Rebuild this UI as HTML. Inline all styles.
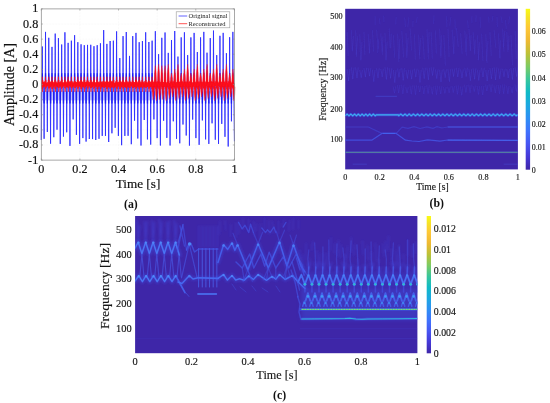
<!DOCTYPE html>
<html lang="en">
<head>
<meta charset="utf-8">
<title>Figure: original vs reconstructed signal and spectrograms</title>
<style>
html,body{margin:0;padding:0;background:#fff;}
body{width:550px;height:403px;overflow:hidden;}
svg{display:block;font-family:"Liberation Serif","DejaVu Serif",serif;}
</style>
</head>
<body>
<svg width="550" height="403" viewBox="0 0 550 403">
<defs>
<linearGradient id="parula" x1="0" y1="1" x2="0" y2="0">
<stop offset="0" stop-color="#3E26A8"/>
<stop offset="0.08" stop-color="#4538D7"/>
<stop offset="0.16" stop-color="#4755F2"/>
<stop offset="0.24" stop-color="#3F73FD"/>
<stop offset="0.32" stop-color="#2E8FF4"/>
<stop offset="0.40" stop-color="#1CA8E1"/>
<stop offset="0.48" stop-color="#0FBAC6"/>
<stop offset="0.56" stop-color="#38C69C"/>
<stop offset="0.64" stop-color="#7CCB63"/>
<stop offset="0.72" stop-color="#BCC137"/>
<stop offset="0.80" stop-color="#EEB932"/>
<stop offset="0.88" stop-color="#FEC737"/>
<stop offset="0.95" stop-color="#F6E327"/>
<stop offset="1" stop-color="#F9FB15"/>
</linearGradient>
<filter id="bl03a" filterUnits="userSpaceOnUse" x="0" y="0" width="550" height="403"><feGaussianBlur stdDeviation="0.28"/></filter>
<filter id="bl03" filterUnits="userSpaceOnUse" x="0" y="0" width="550" height="403"><feGaussianBlur stdDeviation="0.3"/></filter>
<filter id="bl04" filterUnits="userSpaceOnUse" x="0" y="0" width="550" height="403"><feGaussianBlur stdDeviation="0.4"/></filter>
<filter id="bl05" filterUnits="userSpaceOnUse" x="0" y="0" width="550" height="403"><feGaussianBlur stdDeviation="0.5"/></filter>
<filter id="bl06" filterUnits="userSpaceOnUse" x="0" y="0" width="550" height="403"><feGaussianBlur stdDeviation="0.6"/></filter>
<filter id="bl07" filterUnits="userSpaceOnUse" x="0" y="0" width="550" height="403"><feGaussianBlur stdDeviation="0.7"/></filter>
<filter id="bl09" filterUnits="userSpaceOnUse" x="0" y="0" width="550" height="403"><feGaussianBlur stdDeviation="0.9"/></filter>
<filter id="bl08" filterUnits="userSpaceOnUse" x="0" y="0" width="550" height="403"><feGaussianBlur stdDeviation="0.8"/></filter>
<filter id="bl12" filterUnits="userSpaceOnUse" x="0" y="0" width="550" height="403"><feGaussianBlur stdDeviation="1.2"/></filter>
<filter id="bl20" filterUnits="userSpaceOnUse" x="0" y="0" width="550" height="403"><feGaussianBlur stdDeviation="2"/></filter>
<clipPath id="clipB"><rect x="345.2" y="8.8" width="172.7" height="160.6"/></clipPath>
<clipPath id="clipC"><rect x="135.1" y="216" width="282.3" height="137.2"/></clipPath>
</defs>
<rect x="0" y="0" width="550" height="403" fill="#ffffff"/>
<g id="plotA">
<path d="M79.92 8.90 V160.10 M118.54 8.90 V160.10 M157.16 8.90 V160.10 M195.78 8.90 V160.10 M41.30 24.02 H234.40 M41.30 39.14 H234.40 M41.30 54.26 H234.40 M41.30 69.38 H234.40 M41.30 84.50 H234.40 M41.30 99.62 H234.40 M41.30 114.74 H234.40 M41.30 129.86 H234.40 M41.30 144.98 H234.40" stroke="#ededed" stroke-width="0.5" stroke-dasharray="0.6 0.9" fill="none"/>
<rect x="41.80" y="86.77" width="111.70" height="13.61" fill="#8c8cff" opacity="0.5" filter="url(#bl05)"/>
<rect x="153" y="86.77" width="80.90" height="12.85" fill="#8c8cff" opacity="0.3" filter="url(#bl05)"/>
<path d="M41.30 92.06 L41.35 140.00 L41.65 99.62 L41.90 84.50 L41.80 84.50 L42.10 74.67 L42.30 46.50 L42.50 74.67 L42.80 82.99 L43.60 86.01 L43.90 99.62 L44.10 138.80 L44.30 99.62 L44.60 84.50 L45.03 84.50 L45.33 74.67 L45.53 31.90 L45.73 74.67 L46.03 82.99 L46.83 86.01 L47.13 99.62 L47.33 132.00 L47.53 99.62 L47.83 84.50 L48.26 84.50 L48.56 74.67 L48.76 37.80 L48.96 74.67 L49.26 82.99 L50.06 86.01 L50.36 99.62 L50.56 143.70 L50.76 99.62 L51.06 84.50 L51.49 84.50 L51.79 74.67 L51.99 46.90 L52.19 74.67 L52.49 82.99 L53.29 86.01 L53.59 99.62 L53.79 137.20 L53.99 99.62 L54.29 84.50 L54.72 84.50 L55.02 74.67 L55.22 33.60 L55.42 74.67 L55.72 82.99 L56.52 86.01 L56.82 99.62 L57.02 129.70 L57.22 99.62 L57.52 84.50 L57.95 84.50 L58.25 74.67 L58.45 38.10 L58.65 74.67 L58.95 82.99 L59.75 86.01 L60.05 99.62 L60.25 143.90 L60.45 99.62 L60.75 84.50 L61.18 84.50 L61.48 74.67 L61.68 44.50 L61.88 74.67 L62.18 82.99 L62.98 86.01 L63.28 99.62 L63.48 136.60 L63.68 99.62 L63.98 84.50 L64.41 84.50 L64.71 74.67 L64.91 32.30 L65.11 74.67 L65.41 82.99 L66.21 86.01 L66.51 99.62 L66.71 132.30 L66.91 99.62 L67.21 84.50 L67.64 84.50 L67.94 74.67 L68.14 42.90 L68.34 74.67 L68.64 82.99 L69.44 86.01 L69.74 99.62 L69.94 145.90 L70.14 99.62 L70.44 84.50 L70.87 84.50 L71.17 74.67 L71.37 40.70 L71.57 74.67 L71.87 82.99 L72.67 86.01 L72.97 99.62 L73.17 119.40 L73.37 99.62 L73.67 84.50 L74.10 84.50 L74.40 74.67 L74.60 35.20 L74.80 74.67 L75.10 82.99 L75.90 86.01 L76.20 99.62 L76.40 134.90 L76.60 99.62 L76.90 84.50 L77.33 84.50 L77.63 74.67 L77.83 42.20 L78.03 74.67 L78.33 82.99 L79.13 86.01 L79.43 99.62 L79.63 143.90 L79.83 99.62 L80.13 84.50 L80.56 84.50 L80.86 74.67 L81.06 44.30 L81.26 74.67 L81.56 82.99 L82.36 86.01 L82.66 99.62 L82.86 138.10 L83.06 99.62 L83.36 84.50 L83.79 84.50 L84.09 74.67 L84.29 45.20 L84.49 74.67 L84.79 82.99 L85.59 86.01 L85.89 99.62 L86.09 141.60 L86.29 99.62 L86.59 84.50 L87.02 84.50 L87.32 74.67 L87.52 44.90 L87.72 74.67 L88.02 82.99 L88.82 86.01 L89.12 99.62 L89.32 139.00 L89.52 99.62 L89.82 84.50 L90.25 84.50 L90.55 74.67 L90.75 44.80 L90.95 74.67 L91.25 82.99 L92.05 86.01 L92.35 99.62 L92.55 139.10 L92.75 99.62 L93.05 84.50 L93.48 84.50 L93.78 74.67 L93.98 46.20 L94.18 74.67 L94.48 82.99 L95.28 86.01 L95.58 99.62 L95.78 140.00 L95.98 99.62 L96.28 84.50 L96.71 84.50 L97.01 74.67 L97.21 45.20 L97.41 74.67 L97.71 82.99 L98.51 86.01 L98.81 99.62 L99.01 138.80 L99.21 99.62 L99.51 84.50 L99.94 84.50 L100.24 74.67 L100.44 43.30 L100.64 74.67 L100.94 82.99 L101.74 86.01 L102.04 99.62 L102.24 135.90 L102.44 99.62 L102.74 84.50 L103.17 84.50 L103.47 74.67 L103.67 30.10 L103.87 74.67 L104.17 82.99 L104.97 86.01 L105.27 99.62 L105.47 135.90 L105.67 99.62 L105.97 84.50 L106.40 84.50 L106.70 74.67 L106.90 43.90 L107.10 74.67 L107.40 82.99 L108.20 86.01 L108.50 99.62 L108.70 142.00 L108.90 99.62 L109.20 84.50 L109.63 84.50 L109.93 74.67 L110.13 41.00 L110.33 74.67 L110.63 82.99 L111.43 86.01 L111.73 99.62 L111.93 133.30 L112.13 99.62 L112.43 84.50 L112.86 84.50 L113.16 74.67 L113.36 40.70 L113.56 74.67 L113.86 82.99 L114.66 86.01 L114.96 99.62 L115.16 127.80 L115.36 99.62 L115.66 84.50 L116.09 84.50 L116.39 74.67 L116.59 31.40 L116.79 74.67 L117.09 82.99 L117.89 86.01 L118.19 99.62 L118.39 135.90 L118.59 99.62 L118.89 84.50 L119.32 84.50 L119.62 74.67 L119.82 58.10 L120.02 74.67 L120.32 82.99 L121.12 86.01 L121.42 99.62 L121.62 145.20 L121.82 99.62 L122.12 84.50 L122.55 84.50 L122.85 74.67 L123.05 36.10 L123.25 74.67 L123.55 82.99 L124.35 86.01 L124.65 99.62 L124.85 135.90 L125.05 99.62 L125.35 84.50 L125.78 84.50 L126.08 74.67 L126.28 32.00 L126.48 74.67 L126.78 82.99 L127.58 86.01 L127.88 99.62 L128.08 135.80 L128.28 99.62 L128.58 84.50 L129.01 84.50 L129.31 74.67 L129.51 55.90 L129.71 74.67 L130.01 82.99 L130.81 86.01 L131.11 99.62 L131.31 144.20 L131.51 99.62 L131.81 84.50 L132.24 84.50 L132.54 74.67 L132.74 36.10 L132.94 74.67 L133.24 82.99 L134.04 86.01 L134.34 99.62 L134.54 120.70 L134.74 99.62 L135.04 84.50 L135.47 84.50 L135.77 74.67 L135.97 32.90 L136.17 74.67 L136.47 82.99 L137.27 86.01 L137.57 99.62 L137.77 138.50 L137.97 99.62 L138.27 84.50 L138.70 84.50 L139.00 74.67 L139.20 42.20 L139.40 74.67 L139.70 82.99 L140.50 86.01 L140.80 99.62 L141.00 145.50 L141.20 99.62 L141.50 84.50 L141.93 84.50 L142.23 74.67 L142.43 41.10 L142.63 74.67 L142.93 82.99 L143.73 86.01 L144.03 99.62 L144.23 120.00 L144.43 99.62 L144.73 84.50 L145.16 84.50 L145.46 74.67 L145.66 32.30 L145.86 74.67 L146.16 82.99 L146.96 86.01 L147.26 99.62 L147.46 139.40 L147.66 99.62 L147.96 84.50 L148.39 84.50 L148.69 74.67 L148.89 42.00 L149.09 74.67 L149.39 82.99 L150.19 86.01 L150.49 99.62 L150.69 144.60 L150.89 99.62 L151.19 84.50 L151.62 84.50 L151.92 74.67 L152.12 40.70 L152.32 74.67 L152.62 82.99 L153.42 86.01 L153.72 99.62 L153.92 119.40 L154.12 99.62 L154.42 84.50 L154.85 84.50 L155.15 74.67 L155.35 31.20 L155.55 74.67 L155.85 82.99 L156.65 86.01 L156.95 99.62 L157.15 138.10 L157.35 99.62 L157.65 84.50 L158.08 84.50 L158.38 74.67 L158.58 54.20 L158.78 74.67 L159.08 82.99 L159.88 86.01 L160.18 99.62 L160.38 145.50 L160.58 99.62 L160.88 84.50 L161.31 84.50 L161.61 74.67 L161.81 37.80 L162.01 74.67 L162.31 82.99 L163.11 86.01 L163.41 99.62 L163.61 120.70 L163.81 99.62 L164.11 84.50 L164.54 84.50 L164.84 74.67 L165.04 32.50 L165.24 74.67 L165.54 82.99 L166.34 86.01 L166.64 99.62 L166.84 137.90 L167.04 99.62 L167.34 84.50 L167.77 84.50 L168.07 74.67 L168.27 52.90 L168.47 74.67 L168.77 82.99 L169.57 86.01 L169.87 99.62 L170.07 145.50 L170.27 99.62 L170.57 84.50 L171.00 84.50 L171.30 74.67 L171.50 40.00 L171.70 74.67 L172.00 82.99 L172.80 86.01 L173.10 99.62 L173.30 121.30 L173.50 99.62 L173.80 84.50 L174.23 84.50 L174.53 74.67 L174.73 31.00 L174.93 74.67 L175.23 82.99 L176.03 86.01 L176.33 99.62 L176.53 138.80 L176.73 99.62 L177.03 84.50 L177.46 84.50 L177.76 74.67 L177.96 56.60 L178.16 74.67 L178.46 82.99 L179.26 86.01 L179.56 99.62 L179.76 143.30 L179.96 99.62 L180.26 84.50 L180.69 84.50 L180.99 74.67 L181.19 37.40 L181.39 74.67 L181.69 82.99 L182.49 86.01 L182.79 99.62 L182.99 124.50 L183.19 99.62 L183.49 84.50 L183.92 84.50 L184.22 74.67 L184.42 32.30 L184.62 74.67 L184.92 82.99 L185.72 86.01 L186.02 99.62 L186.22 135.50 L186.42 99.62 L186.72 84.50 L187.15 84.50 L187.45 74.67 L187.65 55.10 L187.85 74.67 L188.15 82.99 L188.95 86.01 L189.25 99.62 L189.45 145.60 L189.65 99.62 L189.95 84.50 L190.38 84.50 L190.68 74.67 L190.88 37.40 L191.08 74.67 L191.38 82.99 L192.18 86.01 L192.48 99.62 L192.68 119.60 L192.88 99.62 L193.18 84.50 L193.61 84.50 L193.91 74.67 L194.11 32.90 L194.31 74.67 L194.61 82.99 L195.41 86.01 L195.71 99.62 L195.91 138.10 L196.11 99.62 L196.41 84.50 L196.84 84.50 L197.14 74.67 L197.34 52.00 L197.54 74.67 L197.84 82.99 L198.64 86.01 L198.94 99.62 L199.14 144.80 L199.34 99.62 L199.64 84.50 L200.07 84.50 L200.37 74.67 L200.57 37.40 L200.77 74.67 L201.07 82.99 L201.87 86.01 L202.17 99.62 L202.37 120.40 L202.57 99.62 L202.87 84.50 L203.30 84.50 L203.60 74.67 L203.80 31.90 L204.00 74.67 L204.30 82.99 L205.10 86.01 L205.40 99.62 L205.60 139.40 L205.80 99.62 L206.10 84.50 L206.53 84.50 L206.83 74.67 L207.03 52.70 L207.23 74.67 L207.53 82.99 L208.33 86.01 L208.63 99.62 L208.83 143.90 L209.03 99.62 L209.33 84.50 L209.76 84.50 L210.06 74.67 L210.26 38.10 L210.46 74.67 L210.76 82.99 L211.56 86.01 L211.86 99.62 L212.06 123.30 L212.26 99.62 L212.56 84.50 L212.99 84.50 L213.29 74.67 L213.49 30.60 L213.69 74.67 L213.99 82.99 L214.79 86.01 L215.09 99.62 L215.29 139.70 L215.49 99.62 L215.79 84.50 L216.22 84.50 L216.52 74.67 L216.72 55.10 L216.92 74.67 L217.22 82.99 L218.02 86.01 L218.32 99.62 L218.52 143.90 L218.72 99.62 L219.02 84.50 L219.45 84.50 L219.75 74.67 L219.95 35.80 L220.15 74.67 L220.45 82.99 L221.25 86.01 L221.55 99.62 L221.75 123.90 L221.95 99.62 L222.25 84.50 L222.68 84.50 L222.98 74.67 L223.18 32.90 L223.38 74.67 L223.68 82.99 L224.48 86.01 L224.78 99.62 L224.98 136.80 L225.18 99.62 L225.48 84.50 L225.91 84.50 L226.21 74.67 L226.41 53.20 L226.61 74.67 L226.91 82.99 L227.71 86.01 L228.01 99.62 L228.21 146.50 L228.41 99.62 L228.71 84.50 L229.14 84.50 L229.44 74.67 L229.64 37.20 L229.84 74.67 L230.14 82.99 L230.94 86.01 L231.24 99.62 L231.44 121.30 L231.64 99.62 L231.94 84.50 L232.37 84.50 L232.67 74.67 L232.87 31.90 L233.07 74.67 L233.37 82.99 L233.90 99.62 L234.40 141.30" stroke="#2a2aff" stroke-width="0.85" fill="none" stroke-linejoin="miter" stroke-miterlimit="20" filter="url(#bl03a)"/>
<path d="M42.30 80.72 V73.16 M44.10 91.30 V103.40 M45.53 80.72 V73.16 M47.33 91.30 V103.40 M48.76 80.72 V73.16 M50.56 91.30 V103.40 M51.99 80.72 V73.16 M53.79 91.30 V103.40 M55.22 80.72 V73.16 M57.02 91.30 V103.40 M58.45 80.72 V73.16 M60.25 91.30 V103.40 M61.68 80.72 V73.16 M63.48 91.30 V103.40 M64.91 80.72 V73.16 M66.71 91.30 V103.40 M68.14 80.72 V73.16 M69.94 91.30 V103.40 M71.37 80.72 V73.16 M73.17 91.30 V103.40 M74.60 80.72 V73.16 M76.40 91.30 V103.40 M77.83 80.72 V73.16 M79.63 91.30 V103.40 M81.06 80.72 V73.16 M82.86 91.30 V103.40 M84.29 80.72 V73.16 M86.09 91.30 V103.40 M87.52 80.72 V73.16 M89.32 91.30 V103.40 M90.75 80.72 V73.16 M92.55 91.30 V103.40 M93.98 80.72 V73.16 M95.78 91.30 V103.40 M97.21 80.72 V73.16 M99.01 91.30 V103.40 M100.44 80.72 V73.16 M102.24 91.30 V103.40 M103.67 80.72 V73.16 M105.47 91.30 V103.40 M106.90 80.72 V73.16 M108.70 91.30 V103.40 M110.13 80.72 V73.16 M111.93 91.30 V103.40 M113.36 80.72 V73.16 M115.16 91.30 V103.40 M116.59 80.72 V73.16 M118.39 91.30 V103.40 M119.82 80.72 V73.16 M121.62 91.30 V103.40 M123.05 80.72 V73.16 M124.85 91.30 V103.40 M126.28 80.72 V73.16 M128.08 91.30 V103.40 M129.51 80.72 V73.16 M131.31 91.30 V103.40 M132.74 80.72 V73.16 M134.54 91.30 V103.40 M135.97 80.72 V73.16 M137.77 91.30 V103.40 M139.20 80.72 V73.16 M141.00 91.30 V103.40 M142.43 80.72 V73.16 M144.23 91.30 V103.40 M145.66 80.72 V73.16 M147.46 91.30 V103.40 M148.89 80.72 V73.16 M150.69 91.30 V103.40 M152.12 80.72 V73.16 M153.92 91.30 V103.40 M155.35 80.72 V73.16 M157.15 91.30 V103.40 M158.58 80.72 V73.16 M160.38 91.30 V103.40 M161.81 80.72 V73.16 M163.61 91.30 V103.40 M165.04 80.72 V73.16 M166.84 91.30 V103.40 M168.27 80.72 V73.16 M170.07 91.30 V103.40 M171.50 80.72 V73.16 M173.30 91.30 V103.40 M174.73 80.72 V73.16 M176.53 91.30 V103.40 M177.96 80.72 V73.16 M179.76 91.30 V103.40 M181.19 80.72 V73.16 M182.99 91.30 V103.40 M184.42 80.72 V73.16 M186.22 91.30 V103.40 M187.65 80.72 V73.16 M189.45 91.30 V103.40 M190.88 80.72 V73.16 M192.68 91.30 V103.40 M194.11 80.72 V73.16 M195.91 91.30 V103.40 M197.34 80.72 V73.16 M199.14 91.30 V103.40 M200.57 80.72 V73.16 M202.37 91.30 V103.40 M203.80 80.72 V73.16 M205.60 91.30 V103.40 M207.03 80.72 V73.16 M208.83 91.30 V103.40 M210.26 80.72 V73.16 M212.06 91.30 V103.40 M213.49 80.72 V73.16 M215.29 91.30 V103.40 M216.72 80.72 V73.16 M218.52 91.30 V103.40 M219.95 80.72 V73.16 M221.75 91.30 V103.40 M223.18 80.72 V73.16 M224.98 91.30 V103.40 M226.41 80.72 V73.16 M228.21 91.30 V103.40 M229.64 80.72 V73.16 M231.44 91.30 V103.40 M232.87 80.72 V73.16" stroke="#1a1af2" stroke-width="1.25" fill="none" filter="url(#bl03a)"/>
<path d="M41.61 86.68 L41.84 80.35 L42.07 89.01 L42.30 76.79 L42.53 91.83 L42.76 80.30 L42.99 87.85 L43.22 82.12 L43.45 86.93 L43.68 81.79 L43.91 86.07 L44.15 82.53 L44.38 86.07 L44.61 81.66 L44.84 87.03 L45.07 81.21 L45.30 89.10 L45.53 76.79 L45.76 91.83 L45.99 80.26 L46.22 87.81 L46.45 82.87 L46.68 86.79 L46.91 82.90 L47.14 86.21 L47.38 82.62 L47.61 85.98 L47.84 82.19 L48.07 86.66 L48.30 79.88 L48.53 88.38 L48.76 76.79 L48.99 91.83 L49.22 80.18 L49.45 88.28 L49.68 82.47 L49.91 87.46 L50.14 81.48 L50.37 87.14 L50.61 81.92 L50.84 86.39 L51.07 82.55 L51.30 86.44 L51.53 81.16 L51.76 88.77 L51.99 76.79 L52.22 91.83 L52.45 80.64 L52.68 89.07 L52.91 81.61 L53.14 86.03 L53.37 82.67 L53.60 87.24 L53.84 82.28 L54.07 87.34 L54.30 82.29 L54.53 86.13 L54.76 80.24 L54.99 88.79 L55.22 76.79 L55.45 91.83 L55.68 80.73 L55.91 89.08 L56.14 81.74 L56.37 86.19 L56.60 82.62 L56.83 86.08 L57.07 82.90 L57.30 87.08 L57.53 82.63 L57.76 86.83 L57.99 80.54 L58.22 87.86 L58.45 76.79 L58.68 91.83 L58.91 80.21 L59.14 87.75 L59.37 82.26 L59.60 86.33 L59.83 82.58 L60.06 87.33 L60.30 81.77 L60.53 86.37 L60.76 81.55 L60.99 86.33 L61.22 80.62 L61.45 88.90 L61.68 76.79 L61.91 91.83 L62.14 79.64 L62.37 87.90 L62.60 82.50 L62.83 87.14 L63.06 82.49 L63.29 86.36 L63.53 82.88 L63.76 86.07 L63.99 82.01 L64.22 86.38 L64.45 80.28 L64.68 88.15 L64.91 76.79 L65.14 91.83 L65.37 80.48 L65.60 88.47 L65.83 81.58 L66.06 86.29 L66.29 82.75 L66.53 87.24 L66.76 81.75 L66.99 86.29 L67.22 82.61 L67.45 87.09 L67.68 79.72 L67.91 87.87 L68.14 76.79 L68.37 91.83 L68.60 80.28 L68.83 88.23 L69.06 82.74 L69.29 86.08 L69.52 81.53 L69.76 86.28 L69.99 81.92 L70.22 86.31 L70.45 81.64 L70.68 86.89 L70.91 80.79 L71.14 87.84 L71.37 76.79 L71.60 91.83 L71.83 80.90 L72.06 88.44 L72.29 81.60 L72.52 86.91 L72.75 82.56 L72.98 87.25 L73.22 82.68 L73.45 85.96 L73.68 82.49 L73.91 86.67 L74.14 81.17 L74.37 87.84 L74.60 76.79 L74.83 91.83 L75.06 81.06 L75.29 88.13 L75.52 81.54 L75.75 87.44 L75.98 81.99 L76.22 86.93 L76.45 82.10 L76.68 86.14 L76.91 82.84 L77.14 86.05 L77.37 79.77 L77.60 88.66 L77.83 76.79 L78.06 91.83 L78.29 80.22 L78.52 88.32 L78.75 81.79 L78.98 86.49 L79.21 81.48 L79.45 86.04 L79.68 82.16 L79.91 87.00 L80.14 81.53 L80.37 87.09 L80.60 80.11 L80.83 88.81 L81.06 76.79 L81.29 91.83 L81.52 80.14 L81.75 88.98 L81.98 81.57 L82.21 86.63 L82.44 81.79 L82.67 87.18 L82.91 82.12 L83.14 86.83 L83.37 82.31 L83.60 86.87 L83.83 80.27 L84.06 87.69 L84.29 76.79 L84.52 91.83 L84.75 79.82 L84.98 88.71 L85.21 82.30 L85.44 87.09 L85.67 82.11 L85.91 86.57 L86.14 81.72 L86.37 86.06 L86.60 81.76 L86.83 86.07 L87.06 80.28 L87.29 88.32 L87.52 76.79 L87.75 91.83 L87.98 80.45 L88.21 88.53 L88.44 81.50 L88.67 86.39 L88.90 82.97 L89.14 86.37 L89.37 81.96 L89.60 86.23 L89.83 82.64 L90.06 87.33 L90.29 80.18 L90.52 88.26 L90.75 76.79 L90.98 91.83 L91.21 80.17 L91.44 87.88 L91.67 82.24 L91.90 87.19 L92.13 81.61 L92.36 87.20 L92.60 82.41 L92.83 86.77 L93.06 82.41 L93.29 86.22 L93.52 80.45 L93.75 88.88 L93.98 76.79 L94.21 91.83 L94.44 79.71 L94.67 88.00 L94.90 82.64 L95.13 86.68 L95.36 82.57 L95.59 86.24 L95.83 82.36 L96.06 86.84 L96.29 82.14 L96.52 86.48 L96.75 79.89 L96.98 89.10 L97.21 76.79 L97.44 91.83 L97.67 81.22 L97.90 88.93 L98.13 82.83 L98.36 87.05 L98.59 82.13 L98.83 86.38 L99.06 81.79 L99.29 85.96 L99.52 82.69 L99.75 86.68 L99.98 81.23 L100.21 88.87 L100.44 76.79 L100.67 91.83 L100.90 81.20 L101.13 88.55 L101.36 82.22 L101.59 86.93 L101.82 82.00 L102.05 87.10 L102.29 81.54 L102.52 86.92 L102.75 82.59 L102.98 86.71 L103.21 80.98 L103.44 87.58 L103.67 76.79 L103.90 91.83 L104.13 80.98 L104.36 87.99 L104.59 82.37 L104.82 87.03 L105.05 82.20 L105.28 86.82 L105.52 81.84 L105.75 86.50 L105.98 81.69 L106.21 87.33 L106.44 81.13 L106.67 89.03 L106.90 76.79 L107.13 91.83 L107.36 80.53 L107.59 88.55 L107.82 81.51 L108.05 86.57 L108.28 82.13 L108.52 87.20 L108.75 81.78 L108.98 87.29 L109.21 82.19 L109.44 86.96 L109.67 80.94 L109.90 88.70 L110.13 76.79 L110.36 91.83 L110.59 80.09 L110.82 87.90 L111.05 81.53 L111.28 87.44 L111.51 81.51 L111.75 86.71 L111.98 81.79 L112.21 86.40 L112.44 81.51 L112.67 87.26 L112.90 80.70 L113.13 87.69 L113.36 76.79 L113.59 91.83 L113.82 80.01 L114.05 88.33 L114.28 82.85 L114.51 87.19 L114.74 82.89 L114.98 87.09 L115.21 82.73 L115.44 86.42 L115.67 81.70 L115.90 86.23 L116.13 81.03 L116.36 88.37 L116.59 76.79 L116.82 91.83 L117.05 80.14 L117.28 89.05 L117.51 82.15 L117.74 87.39 L117.97 82.86 L118.20 86.25 L118.44 82.19 L118.67 86.35 L118.90 81.79 L119.13 86.95 L119.36 80.41 L119.59 88.89 L119.82 76.79 L120.05 91.83 L120.28 80.64 L120.51 88.89 L120.74 81.53 L120.97 86.33 L121.20 81.70 L121.44 87.33 L121.67 82.20 L121.90 86.76 L122.13 82.59 L122.36 86.80 L122.59 80.44 L122.82 88.51 L123.05 76.79 L123.28 91.83 L123.51 80.42 L123.74 88.19 L123.97 81.68 L124.20 86.84 L124.43 82.25 L124.67 86.93 L124.90 82.89 L125.13 86.71 L125.36 82.27 L125.59 87.41 L125.82 79.75 L126.05 87.99 L126.28 76.79 L126.51 91.83 L126.74 80.56 L126.97 88.84 L127.20 81.53 L127.43 86.71 L127.66 82.51 L127.89 86.21 L128.13 82.05 L128.36 87.27 L128.59 82.70 L128.82 87.15 L129.05 81.24 L129.28 87.87 L129.51 76.79 L129.74 91.83 L129.97 80.74 L130.20 88.12 L130.43 81.95 L130.66 86.18 L130.89 81.88 L131.12 86.11 L131.36 82.22 L131.59 86.30 L131.82 82.59 L132.05 86.79 L132.28 80.55 L132.51 88.15 L132.74 76.79 L132.97 91.83 L133.20 81.01 L133.43 87.88 L133.66 81.94 L133.89 86.95 L134.12 82.19 L134.35 87.16 L134.59 82.06 L134.82 87.17 L135.05 82.54 L135.28 87.09 L135.51 79.94 L135.74 88.98 L135.97 76.79 L136.20 91.83 L136.43 79.75 L136.66 87.91 L136.89 81.38 L137.12 87.31 L137.35 82.79 L137.58 86.28 L137.82 81.89 L138.05 86.31 L138.28 82.75 L138.51 87.23 L138.74 80.58 L138.97 88.80 L139.20 76.79 L139.43 91.83 L139.66 80.14 L139.89 87.59 L140.12 82.59 L140.35 87.01 L140.58 81.61 L140.81 87.33 L141.05 82.81 L141.28 86.66 L141.51 81.74 L141.74 86.75 L141.97 80.14 L142.20 87.86 L142.43 76.79 L142.66 91.83 L142.89 81.21 L143.12 88.43 L143.35 82.11 L143.58 86.85 L143.81 82.77 L144.04 86.20 L144.28 82.68 L144.51 87.14 L144.74 81.39 L144.97 87.36 L145.20 81.12 L145.43 87.66 L145.66 76.79 L145.89 91.83 L146.12 80.01 L146.35 88.08 L146.58 82.19 L146.81 86.77 L147.04 82.34 L147.27 86.80 L147.51 82.97 L147.74 86.94 L147.97 81.61 L148.20 86.29 L148.43 80.52 L148.66 88.72 L148.89 76.79 L149.12 91.83 L149.35 81.00 L149.58 88.37 L149.81 82.87 L150.04 87.31 L150.27 81.78 L150.50 86.95 L150.74 81.69 L150.97 86.84 L151.20 82.28 L151.43 86.89 L151.66 80.44 L151.89 89.11 L152.12 76.79 L152.35 91.83 L152.58 79.77 L152.81 88.73 L153.04 81.71 L153.27 87.20 L153.50 82.37 L153.73 87.22 L153.97 81.66 L154.20 86.93 L154.43 81.79 L154.66 87.07 L154.89 81.66 L155.12 87.67 L155.35 79.59 L155.58 89.17 L155.81 81.56 L156.04 86.61 L156.27 82.41 L156.50 86.89 L156.73 82.04 L156.96 86.27 L157.20 81.56 L157.43 86.89 L157.66 82.44 L157.89 86.92 L158.12 81.40 L158.35 87.39 L158.58 79.59 L158.81 89.17 L159.04 81.29 L159.27 87.64 L159.50 81.80 L159.73 87.38 L159.96 82.95 L160.19 86.82 L160.43 81.87 L160.66 86.31 L160.89 82.34 L161.12 86.04 L161.35 81.99 L161.58 87.15 L161.81 79.59 L162.04 89.17 L162.27 80.88 L162.50 87.41 L162.73 82.18 L162.96 87.36 L163.19 82.13 L163.42 87.37 L163.66 82.02 L163.89 87.10 L164.12 82.84 L164.35 86.83 L164.58 81.11 L164.81 86.66 L165.04 79.59 L165.27 89.17 L165.50 81.56 L165.73 86.84 L165.96 82.20 L166.19 86.85 L166.42 82.90 L166.65 87.29 L166.89 82.35 L167.12 86.69 L167.35 82.04 L167.58 86.50 L167.81 81.85 L168.04 87.57 L168.27 79.59 L168.50 89.17 L168.73 81.17 L168.96 87.03 L169.19 82.93 L169.42 86.32 L169.65 82.92 L169.88 86.16 L170.12 81.85 L170.35 86.50 L170.58 81.59 L170.81 87.05 L171.04 82.22 L171.27 88.07 L171.50 79.59 L171.73 89.17 L171.96 80.88 L172.19 87.23 L172.42 82.23 L172.65 87.37 L172.88 82.62 L173.12 86.69 L173.35 81.57 L173.58 86.97 L173.81 82.24 L174.04 87.38 L174.27 81.02 L174.50 87.49 L174.73 79.59 L174.96 89.17 L175.19 81.58 L175.42 86.90 L175.65 82.87 L175.88 86.73 L176.11 82.80 L176.34 86.57 L176.58 81.98 L176.81 86.59 L177.04 82.55 L177.27 86.81 L177.50 81.64 L177.73 87.75 L177.96 79.59 L178.19 89.17 L178.42 80.80 L178.65 87.69 L178.88 82.59 L179.11 86.14 L179.34 81.64 L179.57 87.06 L179.81 82.04 L180.04 86.45 L180.27 82.54 L180.50 86.96 L180.73 81.41 L180.96 87.47 L181.19 79.59 L181.42 89.17 L181.65 82.00 L181.88 86.96 L182.11 81.47 L182.34 87.29 L182.57 81.66 L182.81 85.99 L183.04 82.90 L183.27 86.33 L183.50 82.31 L183.73 86.87 L183.96 82.14 L184.19 87.40 L184.42 79.59 L184.65 89.17 L184.88 81.24 L185.11 87.41 L185.34 81.99 L185.57 86.51 L185.80 82.26 L186.03 86.24 L186.27 82.47 L186.50 87.01 L186.73 81.68 L186.96 86.08 L187.19 82.11 L187.42 87.80 L187.65 79.59 L187.88 89.17 L188.11 81.96 L188.34 87.22 L188.57 82.56 L188.80 87.14 L189.03 82.43 L189.26 86.88 L189.50 81.49 L189.73 86.40 L189.96 82.12 L190.19 87.05 L190.42 80.85 L190.65 87.23 L190.88 79.59 L191.11 89.17 L191.34 80.92 L191.57 86.71 L191.80 82.82 L192.03 86.78 L192.26 82.25 L192.50 86.92 L192.73 82.54 L192.96 87.05 L193.19 82.84 L193.42 86.28 L193.65 81.26 L193.88 86.71 L194.11 79.59 L194.34 89.17 L194.57 81.21 L194.80 87.01 L195.03 82.73 L195.26 86.49 L195.49 81.89 L195.72 86.46 L195.96 82.81 L196.19 86.96 L196.42 82.09 L196.65 87.29 L196.88 80.82 L197.11 87.95 L197.34 79.59 L197.57 89.17 L197.80 81.82 L198.03 87.07 L198.26 82.35 L198.49 87.32 L198.72 81.64 L198.95 86.29 L199.19 82.44 L199.42 86.46 L199.65 82.40 L199.88 86.54 L200.11 81.69 L200.34 86.88 L200.57 79.59 L200.80 89.17 L201.03 81.45 L201.26 87.84 L201.49 82.10 L201.72 86.23 L201.95 81.84 L202.19 87.20 L202.42 82.56 L202.65 85.97 L202.88 82.17 L203.11 86.76 L203.34 81.41 L203.57 88.03 L203.80 79.59 L204.03 89.17 L204.26 82.20 L204.49 87.41 L204.72 81.76 L204.95 86.09 L205.18 82.86 L205.41 87.00 L205.65 81.63 L205.88 86.06 L206.11 81.99 L206.34 86.18 L206.57 81.13 L206.80 87.56 L207.03 79.59 L207.26 89.17 L207.49 81.10 L207.72 87.37 L207.95 81.79 L208.18 86.54 L208.41 82.48 L208.64 87.33 L208.88 81.97 L209.11 86.65 L209.34 82.14 L209.57 87.01 L209.80 81.19 L210.03 87.96 L210.26 79.59 L210.49 89.17 L210.72 81.25 L210.95 87.86 L211.18 81.73 L211.41 87.17 L211.64 81.64 L211.88 87.31 L212.11 82.02 L212.34 86.69 L212.57 81.87 L212.80 87.13 L213.03 81.64 L213.26 87.22 L213.49 79.59 L213.72 89.17 L213.95 80.74 L214.18 87.15 L214.41 82.70 L214.64 86.27 L214.87 82.35 L215.10 86.36 L215.34 81.52 L215.57 86.02 L215.80 82.48 L216.03 86.14 L216.26 81.28 L216.49 87.75 L216.72 79.59 L216.95 89.17 L217.18 81.58 L217.41 87.46 L217.64 81.57 L217.87 86.02 L218.10 82.82 L218.33 86.20 L218.57 82.66 L218.80 86.27 L219.03 81.86 L219.26 86.83 L219.49 81.95 L219.72 86.87 L219.95 79.59 L220.18 89.17 L220.41 81.11 L220.64 87.06 L220.87 82.12 L221.10 87.15 L221.33 82.26 L221.56 86.31 L221.80 81.65 L222.03 87.25 L222.26 82.43 L222.49 86.76 L222.72 80.80 L222.95 87.31 L223.18 79.59 L223.41 89.17 L223.64 80.81 L223.87 87.79 L224.10 82.37 L224.33 86.73 L224.56 82.21 L224.79 86.33 L225.03 81.49 L225.26 86.88 L225.49 82.59 L225.72 85.99 L225.95 81.56 L226.18 87.15 L226.41 79.59 L226.64 89.17 L226.87 81.35 L227.10 86.83 L227.33 82.71 L227.56 86.44 L227.79 82.60 L228.02 87.18 L228.26 82.21 L228.49 86.85 L228.72 81.45 L228.95 86.36 L229.18 81.46 L229.41 86.82 L229.64 79.59 L229.87 89.17 L230.10 81.01 L230.33 87.85 L230.56 81.71 L230.79 86.09 L231.02 82.58 L231.25 86.97 L231.49 82.84 L231.72 86.63 L231.95 82.24 L232.18 87.35 L232.41 81.38 L232.64 87.87 L232.87 79.59 L233.10 89.17 L233.33 81.64 L233.56 87.96 L233.79 82.81 L234.02 87.16 L234.25 82.67" stroke="#ff0a14" stroke-width="0.6" fill="none" stroke-linejoin="round"/>
<path d="M154.25 82.23 L154.57 73.16 L155.40 65.60 L156.13 73.16 L156.45 82.23 Z M152.10 86.77 L152.42 93.57 L153.20 99.62 L153.98 93.57 L154.30 86.77 Z M157.48 82.23 L157.80 72.34 L158.63 64.24 L159.36 72.34 L159.68 82.23 Z M155.33 86.77 L155.65 94.25 L156.43 100.75 L157.21 94.25 L157.53 86.77 Z M160.71 82.23 L161.03 73.16 L161.86 65.60 L162.59 73.16 L162.91 82.23 Z M158.56 86.77 L158.88 93.57 L159.66 99.62 L160.44 93.57 L160.76 86.77 Z M163.94 82.23 L164.26 73.16 L165.09 65.60 L165.82 73.16 L166.14 82.23 Z M161.79 86.77 L162.11 93.57 L162.89 99.62 L163.67 93.57 L163.99 86.77 Z M167.17 82.23 L167.49 72.34 L168.32 64.24 L169.05 72.34 L169.37 82.23 Z M165.02 86.77 L165.34 94.25 L166.12 100.75 L166.90 94.25 L167.22 86.77 Z M170.40 82.23 L170.72 77.70 L171.55 73.16 L172.28 77.70 L172.60 82.23 Z M168.25 86.77 L168.57 92.89 L169.35 98.49 L170.13 92.89 L170.45 86.77 Z M173.63 82.23 L173.95 75.20 L174.78 69.00 L175.51 75.20 L175.83 82.23 Z M171.48 86.77 L171.80 91.98 L172.58 96.97 L173.36 91.98 L173.68 86.77 Z M176.86 82.23 L177.18 72.34 L178.01 64.24 L178.74 72.34 L179.06 82.23 Z M174.71 86.77 L175.03 94.25 L175.81 100.75 L176.59 94.25 L176.91 86.77 Z M180.09 82.23 L180.41 77.70 L181.24 73.16 L181.97 77.70 L182.29 82.23 Z M177.94 86.77 L178.26 92.89 L179.04 98.49 L179.82 92.89 L180.14 86.77 Z M183.32 82.23 L183.64 75.20 L184.47 69.00 L185.20 75.20 L185.52 82.23 Z M181.17 86.77 L181.49 91.98 L182.27 96.97 L183.05 91.98 L183.37 86.77 Z M186.55 82.23 L186.87 72.34 L187.70 64.24 L188.43 72.34 L188.75 82.23 Z M184.40 86.77 L184.72 94.25 L185.50 100.75 L186.28 94.25 L186.60 86.77 Z M189.78 82.23 L190.10 77.70 L190.93 73.16 L191.66 77.70 L191.98 82.23 Z M187.63 86.77 L187.95 92.89 L188.73 98.49 L189.51 92.89 L189.83 86.77 Z M193.01 82.23 L193.33 75.20 L194.16 69.00 L194.89 75.20 L195.21 82.23 Z M190.86 86.77 L191.18 91.98 L191.96 96.97 L192.74 91.98 L193.06 86.77 Z M196.24 82.23 L196.56 72.34 L197.39 64.24 L198.12 72.34 L198.44 82.23 Z M194.09 86.77 L194.41 94.25 L195.19 100.75 L195.97 94.25 L196.29 86.77 Z M199.47 82.23 L199.79 77.70 L200.62 73.16 L201.35 77.70 L201.67 82.23 Z M197.32 86.77 L197.64 92.89 L198.42 98.49 L199.20 92.89 L199.52 86.77 Z M202.70 82.23 L203.02 75.20 L203.85 69.00 L204.58 75.20 L204.90 82.23 Z M200.55 86.77 L200.87 91.98 L201.65 96.97 L202.43 91.98 L202.75 86.77 Z M205.93 82.23 L206.25 72.34 L207.08 64.24 L207.81 72.34 L208.13 82.23 Z M203.78 86.77 L204.10 94.25 L204.88 100.75 L205.66 94.25 L205.98 86.77 Z M209.16 82.23 L209.48 77.70 L210.31 73.16 L211.04 77.70 L211.36 82.23 Z M207.01 86.77 L207.33 92.89 L208.11 98.49 L208.89 92.89 L209.21 86.77 Z M212.39 82.23 L212.71 75.20 L213.54 69.00 L214.27 75.20 L214.59 82.23 Z M210.24 86.77 L210.56 91.98 L211.34 96.97 L212.12 91.98 L212.44 86.77 Z M215.62 82.23 L215.94 72.34 L216.77 64.24 L217.50 72.34 L217.82 82.23 Z M213.47 86.77 L213.79 94.25 L214.57 100.75 L215.35 94.25 L215.67 86.77 Z M218.85 82.23 L219.17 77.70 L220.00 73.16 L220.73 77.70 L221.05 82.23 Z M216.70 86.77 L217.02 92.89 L217.80 98.49 L218.58 92.89 L218.90 86.77 Z M222.08 82.23 L222.40 75.20 L223.23 69.00 L223.96 75.20 L224.28 82.23 Z M219.93 86.77 L220.25 91.98 L221.03 96.97 L221.81 91.98 L222.13 86.77 Z M225.31 82.23 L225.63 72.34 L226.46 64.24 L227.19 72.34 L227.51 82.23 Z M223.16 86.77 L223.48 94.25 L224.26 100.75 L225.04 94.25 L225.36 86.77 Z M228.54 82.23 L228.86 77.70 L229.69 73.16 L230.42 77.70 L230.74 82.23 Z M226.39 86.77 L226.71 92.89 L227.49 98.49 L228.27 92.89 L228.59 86.77 Z M231.77 82.23 L232.09 75.20 L232.92 69.00 L233.65 75.20 L233.97 82.23 Z M229.62 86.77 L229.94 91.98 L230.72 96.97 L231.50 91.98 L231.82 86.77 Z M232.85 86.77 L233.17 94.25 L233.95 100.75 L234.73 94.25 L235.05 86.77 Z" fill="#f80d1e" stroke="#f80d1e" stroke-width="0.35" stroke-linejoin="round" filter="url(#bl03a)"/>
<rect x="41.30" y="8.90" width="193.10" height="151.20" fill="none" stroke="#8c8c8c" stroke-width="0.75"/>
<path d="M41.30 160.10 v-1.6 M41.30 8.90 v1.6 M79.92 160.10 v-1.6 M79.92 8.90 v1.6 M118.54 160.10 v-1.6 M118.54 8.90 v1.6 M157.16 160.10 v-1.6 M157.16 8.90 v1.6 M195.78 160.10 v-1.6 M195.78 8.90 v1.6 M234.40 160.10 v-1.6 M234.40 8.90 v1.6 M41.30 8.90 h1.6 M234.40 8.90 h-1.6 M41.30 24.02 h1.6 M234.40 24.02 h-1.6 M41.30 39.14 h1.6 M234.40 39.14 h-1.6 M41.30 54.26 h1.6 M234.40 54.26 h-1.6 M41.30 69.38 h1.6 M234.40 69.38 h-1.6 M41.30 84.50 h1.6 M234.40 84.50 h-1.6 M41.30 99.62 h1.6 M234.40 99.62 h-1.6 M41.30 114.74 h1.6 M234.40 114.74 h-1.6 M41.30 129.86 h1.6 M234.40 129.86 h-1.6 M41.30 144.98 h1.6 M234.40 144.98 h-1.6 M41.30 160.10 h1.6 M234.40 160.10 h-1.6" stroke="#8c8c8c" stroke-width="0.6" fill="none"/>
<g font-size="12.1" fill="#111" stroke="#111" stroke-width="0.18">
<text x="38.2" y="12.40" text-anchor="end">1</text>
<text x="38.2" y="27.52" text-anchor="end">0.8</text>
<text x="38.2" y="42.64" text-anchor="end">0.6</text>
<text x="38.2" y="57.76" text-anchor="end">0.4</text>
<text x="38.2" y="72.88" text-anchor="end">0.2</text>
<text x="38.2" y="88.00" text-anchor="end">0</text>
<text x="38.2" y="103.12" text-anchor="end">-0.2</text>
<text x="38.2" y="118.24" text-anchor="end">-0.4</text>
<text x="38.2" y="133.36" text-anchor="end">-0.6</text>
<text x="38.2" y="148.48" text-anchor="end">-0.8</text>
<text x="38.2" y="163.60" text-anchor="end">-1</text>
<text x="41.30" y="173.3" text-anchor="middle">0</text>
<text x="79.92" y="173.3" text-anchor="middle">0.2</text>
<text x="118.54" y="173.3" text-anchor="middle">0.4</text>
<text x="157.16" y="173.3" text-anchor="middle">0.6</text>
<text x="195.78" y="173.3" text-anchor="middle">0.8</text>
<text x="234.40" y="173.3" text-anchor="middle">1</text>
</g>
<text x="138.0" y="187.7" text-anchor="middle" font-size="13.4" textLength="44.6" lengthAdjust="spacingAndGlyphs" fill="#111" stroke="#111" stroke-width="0.18">Time [s]</text>
<text transform="translate(13.9 84.6) rotate(-90)" text-anchor="middle" font-size="13.8" textLength="83" lengthAdjust="spacingAndGlyphs" fill="#111" stroke="#111" stroke-width="0.18">Amplitude [A]</text>
<rect x="176.2" y="11.8" width="53.6" height="16.0" fill="#fff" stroke="#9a9a9a" stroke-width="0.6"/>
<path d="M178.6 16.0 H187.2" stroke="#3a3aff" stroke-width="0.8"/>
<path d="M178.6 23.7 H187.2" stroke="#ff2a2a" stroke-width="0.8"/>
<text x="188.4" y="18.2" font-size="6.7" textLength="39.2" lengthAdjust="spacingAndGlyphs" fill="#222">Original signal</text>
<text x="188.4" y="25.8" font-size="6.7" textLength="37.2" lengthAdjust="spacingAndGlyphs" fill="#222">Reconstructed</text>
<text x="130.9" y="207.9" text-anchor="middle" font-size="11.8" font-weight="bold" fill="#111">(a)</text>
</g>
<g id="plotB">
<rect x="345.20" y="8.80" width="172.70" height="160.60" fill="#3E26A8"/>
<g clip-path="url(#clipB)">
<g filter="url(#bl06)" fill="none" stroke-linecap="round">
<path d="M347.20 32.35 l0.96 23.36 M351.40 30.49 l0.88 20.35 M353.50 36.23 l-1.22 14.25 M355.60 30.88 l0.91 25.62 M357.70 36.57 l-1.47 17.93 M359.80 34.64 l0.81 25.16 M361.90 42.32 l-0.74 17.61 M364.00 32.51 l0.81 22.41 M368.20 34.40 l1.42 18.89 M370.30 39.40 l-1.04 13.23 M372.40 30.39 l1.19 20.72 M376.60 30.05 l1.53 18.80 M378.70 39.61 l-1.06 13.16 M380.80 33.79 l1.63 20.64 M382.90 36.92 l-0.59 14.45 M385.00 33.42 l0.98 25.92 M387.10 42.12 l-1.09 18.14 M389.20 28.72 l0.96 19.17 M391.30 33.98 l-0.57 13.42 M393.40 35.36 l1.31 21.98 M397.60 34.13 l1.19 27.50 M399.70 39.43 l-0.52 19.25 M401.80 31.21 l1.78 25.80 M406.00 33.28 l0.82 24.52 M408.10 38.02 l-1.15 17.16 M410.20 28.85 l1.31 21.29 M414.40 34.60 l0.96 24.56 M418.60 35.22 l1.15 23.68 M420.70 38.36 l-1.21 16.57 M422.80 35.89 l1.52 23.22 M427.00 29.58 l1.43 29.23 M429.10 32.24 l-0.74 20.46 M431.20 32.61 l1.13 25.76 M435.40 30.89 l0.92 22.48 M439.60 29.08 l1.34 28.66 M441.70 35.57 l-0.76 20.06 M443.80 35.27 l1.62 29.89 M448.00 28.98 l1.09 27.55 M452.20 29.93 l1.63 24.03 M454.30 36.31 l-0.58 16.82 M456.40 28.26 l1.79 18.52 M460.60 33.27 l1.47 20.31 M464.80 31.05 l1.60 24.29 M466.90 34.65 l-0.97 17.00 M469.00 29.14 l1.37 21.41 M471.10 35.30 l-0.76 14.99 M473.20 32.54 l1.44 20.65 M475.30 39.91 l-0.64 14.45 M477.40 35.67 l1.27 24.40 M479.50 42.67 l-1.19 17.08 M481.60 34.06 l1.29 26.52 M485.80 34.71 l1.21 27.97 M487.90 41.23 l-1.41 19.58 M490.00 32.21 l1.23 23.35 M494.20 30.57 l1.53 16.77 M498.40 33.86 l1.55 24.37 M500.50 40.60 l-0.57 17.06 M502.60 29.00 l1.30 22.26 M504.70 31.41 l-1.19 15.58 M506.80 32.21 l1.11 19.35 M508.90 36.10 l-0.57 13.54 M511.00 35.29 l1.47 29.53 M515.20 31.37 l1.02 27.27" stroke="#4a42d2" stroke-width="0.9" opacity="0.3"/>
<path d="M347.20 69.20 l1.4 11.52 M349.80 69.20 l-1.2 11.52 M351.40 67.80 l1.4 10.96 M354.00 67.80 l-1.2 10.96 M355.60 67.87 l1.4 9.69 M358.20 67.87 l-1.2 9.69 M359.80 70.35 l1.4 7.00 M362.40 70.35 l-1.2 7.00 M364.00 68.23 l1.4 8.50 M366.60 68.23 l-1.2 8.50 M368.20 68.47 l1.4 7.31 M370.80 68.47 l-1.2 7.31 M372.40 70.19 l1.4 11.08 M375.00 70.19 l-1.2 11.08 M376.60 68.69 l1.4 8.78 M379.20 68.69 l-1.2 8.78 M380.80 69.26 l1.4 7.23 M383.40 69.26 l-1.2 7.23 M385.00 67.59 l1.4 11.49 M387.60 67.59 l-1.2 11.49 M389.20 68.42 l1.4 9.49 M391.80 68.42 l-1.2 9.49 M393.40 70.30 l1.4 11.89 M396.00 70.30 l-1.2 11.89 M397.60 68.92 l1.4 8.03 M400.20 68.92 l-1.2 8.03 M401.80 68.39 l1.4 11.61 M404.40 68.39 l-1.2 11.61 M406.00 70.19 l1.4 7.98 M408.60 70.19 l-1.2 7.98 M410.20 70.01 l1.4 8.77 M412.80 70.01 l-1.2 8.77 M414.40 68.92 l1.4 7.86 M417.00 68.92 l-1.2 7.86 M418.60 70.14 l1.4 11.98 M421.20 70.14 l-1.2 11.98 M422.80 68.11 l1.4 10.16 M425.40 68.11 l-1.2 10.16 M427.00 68.07 l1.4 11.40 M429.60 68.07 l-1.2 11.40 M431.20 67.65 l1.4 7.53 M433.80 67.65 l-1.2 7.53 M435.40 69.68 l1.4 8.56 M438.00 69.68 l-1.2 8.56 M439.60 70.20 l1.4 11.35 M442.20 70.20 l-1.2 11.35 M443.80 69.64 l1.4 7.67 M446.40 69.64 l-1.2 7.67 M448.00 69.59 l1.4 11.69 M450.60 69.59 l-1.2 11.69 M452.20 68.84 l1.4 7.39 M454.80 68.84 l-1.2 7.39 M456.40 68.17 l1.4 8.54 M459.00 68.17 l-1.2 8.54 M460.60 69.63 l1.4 7.98 M463.20 69.63 l-1.2 7.98 M464.80 68.04 l1.4 8.18 M467.40 68.04 l-1.2 8.18 M469.00 69.49 l1.4 10.95 M471.60 69.49 l-1.2 10.95 M473.20 68.62 l1.4 10.31 M475.80 68.62 l-1.2 10.31 M477.40 70.15 l1.4 9.95 M480.00 70.15 l-1.2 9.95 M481.60 68.19 l1.4 8.50 M484.20 68.19 l-1.2 8.50 M485.80 70.28 l1.4 10.34 M488.40 70.28 l-1.2 10.34 M490.00 68.33 l1.4 10.20 M492.60 68.33 l-1.2 10.20 M494.20 67.77 l1.4 11.92 M496.80 67.77 l-1.2 11.92 M498.40 68.82 l1.4 9.64 M501.00 68.82 l-1.2 9.64 M502.60 69.09 l1.4 7.23 M505.20 69.09 l-1.2 7.23 M506.80 69.30 l1.4 8.42 M509.40 69.30 l-1.2 8.42 M511.00 68.25 l1.4 11.02 M513.60 68.25 l-1.2 11.02 M515.20 67.76 l1.4 8.43 M517.80 67.76 l-1.2 8.43" stroke="#4c48da" stroke-width="0.9" opacity="0.34"/>
<path d="M393.20 86.77 l1.2 5.98 M395.60 86.77 l-1.0 5.98 M397.40 85.34 l1.2 7.19 M399.80 85.34 l-1.0 7.19 M401.60 85.06 l1.2 8.59 M404.00 85.06 l-1.0 8.59 M405.80 87.46 l1.2 5.13 M408.20 87.46 l-1.0 5.13 M410.00 85.88 l1.2 8.00 M412.40 85.88 l-1.0 8.00 M414.20 85.65 l1.2 8.72 M416.60 85.65 l-1.0 8.72 M418.40 86.00 l1.2 5.72 M420.80 86.00 l-1.0 5.72 M422.60 86.17 l1.2 7.58 M425.00 86.17 l-1.0 7.58 M426.80 85.58 l1.2 7.63 M429.20 85.58 l-1.0 7.63 M431.00 86.85 l1.2 7.07 M433.40 86.85 l-1.0 7.07 M435.20 86.02 l1.2 8.38 M437.60 86.02 l-1.0 8.38 M439.40 86.55 l1.2 7.08 M441.80 86.55 l-1.0 7.08 M443.60 87.35 l1.2 5.70 M446.00 87.35 l-1.0 5.70 M447.80 86.84 l1.2 5.66 M450.20 86.84 l-1.0 5.66 M452.00 86.32 l1.2 5.94 M454.40 86.32 l-1.0 5.94 M456.20 85.82 l1.2 8.09 M458.60 85.82 l-1.0 8.09 M460.40 86.86 l1.2 8.16 M462.80 86.86 l-1.0 8.16 M464.60 85.21 l1.2 6.96 M467.00 85.21 l-1.0 6.96 M468.80 85.16 l1.2 7.32 M471.20 85.16 l-1.0 7.32 M473.00 86.00 l1.2 5.14 M475.40 86.00 l-1.0 5.14 M477.20 86.29 l1.2 7.86 M479.60 86.29 l-1.0 7.86 M481.40 86.22 l1.2 8.49 M483.80 86.22 l-1.0 8.49 M485.60 85.04 l1.2 5.61 M488.00 85.04 l-1.0 5.61 M489.80 84.55 l1.2 6.98 M492.20 84.55 l-1.0 6.98 M494.00 85.80 l1.2 6.77 M496.40 85.80 l-1.0 6.77 M498.20 85.29 l1.2 8.19 M500.60 85.29 l-1.0 8.19 M502.40 84.72 l1.2 8.63 M504.80 84.72 l-1.0 8.63 M506.60 86.21 l1.2 7.17 M509.00 86.21 l-1.0 7.17 M510.80 86.87 l1.2 5.95 M513.20 86.87 l-1.0 5.95 M515.00 84.94 l1.2 6.24 M517.40 84.94 l-1.0 6.24" stroke="#4a44d6" stroke-width="0.9" opacity="0.3"/>
<path d="M375.20 16.51 l0.05 8.11 M379.40 18.71 l0.64 5.44 M383.60 16.04 l0.38 5.80 M396.20 17.29 l-0.57 6.82 M404.60 17.92 l0.97 8.81 M408.80 17.64 l-0.92 8.72 M413.00 21.12 l-0.21 5.71 M417.20 17.40 l-0.93 5.38 M434.00 16.03 l-0.52 7.76 M446.60 16.70 l0.22 9.91 M450.80 17.22 l-0.88 8.25 M455.00 19.56 l0.18 9.32 M467.60 20.74 l0.56 6.91 M471.80 16.78 l0.10 5.92 M476.00 15.63 l-0.06 6.07 M480.20 17.58 l0.36 9.97 M488.60 17.06 l0.38 5.36 M492.80 16.20 l-0.64 5.09 M497.00 17.14 l0.43 9.62 M501.20 16.89 l0.87 5.77 M505.40 20.13 l0.81 8.62 M509.60 16.58 l-0.83 6.92" stroke="#4840ce" stroke-width="0.9" opacity="0.3"/>
<path d="M376 96.3 H396.5" stroke="#4a5ce8" stroke-width="0.9" opacity="0.5"/>
<path d="M353 164.2 H366.6 M504 164.2 H517.9" stroke="#4650dc" stroke-width="0.8" opacity="0.5"/>
</g>
<g filter="url(#bl05)" fill="none" stroke-linejoin="round">
<path d="M345.20 127.00 L368.30 127.00 L381.90 133.40 L396.20 133.40 L402.10 127.20 L408.00 128.40 L414.00 126.60 L420.00 128.50 L427.00 126.80 L433.00 128.40 L437.00 126.60 L442.00 128.00 L447.70 127.00 L517.90 127.00" stroke="#4248d8" stroke-width="1.2" opacity="0.55"/>
<path d="M345.20 140.20 L371.70 140.20 L381.90 133.40 L396.20 133.40 L405.50 140.20 L412.00 141.00 L419.00 141.50 L427.50 139.80 L433.00 140.40 L440.00 141.20 L447.70 140.00 L517.90 140.40" stroke="#4358e8" stroke-width="1.2" opacity="0.8"/>
<path d="M447.7 127 H517.9" stroke="#4866f2" stroke-width="0.9" opacity="0.75"/>
<path d="M447.7 140.1 L517.9 140.4" stroke="#486cf4" stroke-width="0.9" opacity="0.8"/>
<path d="M383 133.4 H395" stroke="#486cf4" stroke-width="0.9" opacity="0.7"/>
</g>
<g fill="none" stroke-linejoin="round">
<path d="M345.20 115.80 L345.45 115.56 L345.70 115.32 L345.95 115.08 L346.20 114.84 L346.45 114.60 L346.70 114.36 L346.95 114.12 L347.20 114.12 L347.45 114.36 L347.70 114.60 L347.95 114.84 L348.20 115.08 L348.45 115.32 L348.70 115.56 L348.95 115.80 L349.20 115.56 L349.45 115.32 L349.70 115.08 L349.95 114.84 L350.20 114.60 L350.45 114.36 L350.70 114.12 L350.95 114.12 L351.20 114.36 L351.45 114.60 L351.70 114.84 L351.95 115.08 L352.20 115.32 L352.45 115.56 L352.70 115.80 L352.95 115.56 L353.20 115.32 L353.45 115.08 L353.70 114.84 L353.95 114.60 L354.20 114.36 L354.45 114.12 L354.70 114.12 L354.95 114.36 L355.20 114.60 L355.45 114.84 L355.70 115.08 L355.95 115.32 L356.20 115.56 L356.45 115.80 L356.70 115.56 L356.95 115.32 L357.20 115.08 L357.45 114.84 L357.70 114.60 L357.95 114.36 L358.20 114.12 L358.45 114.12 L358.70 114.36 L358.95 114.60 L359.20 114.84 L359.45 115.08 L359.70 115.32 L359.95 115.56 L360.20 115.80 L360.45 115.56 L360.70 115.32 L360.95 115.08 L361.20 114.84 L361.45 114.60 L361.70 114.36 L361.95 114.12 L362.20 114.12 L362.45 114.36 L362.70 114.60 L362.95 114.84 L363.20 115.08 L363.45 115.32 L363.70 115.56 L363.95 115.80 L364.20 115.56 L364.45 115.32 L364.70 115.08 L364.95 114.84 L365.20 114.60 L365.45 114.36 L365.70 114.12 L365.95 114.12 L366.20 114.36 L366.45 114.60 L366.70 114.84 L366.95 115.08 L367.20 115.32 L367.45 115.56 L367.70 115.80 L367.95 115.56 L368.20 115.32 L368.45 115.08 L368.70 114.84 L368.95 114.60 L369.20 114.36 L369.45 114.12 L369.70 114.12 L369.95 114.36 L370.20 114.60 L370.45 114.84 L370.70 115.08 L370.95 115.32 L371.20 115.56 L371.45 115.80 L371.70 115.56 L371.95 115.32 L372.20 115.08 L372.45 114.84 L372.70 114.60 L372.95 114.36 L373.20 114.12 L373.45 114.12 L373.70 114.36 L373.95 114.60 L374.20 114.84 L374.45 115.08 L374.70 115.32 L374.95 115.56 L375.20 115.80 L375.45 115.56 L375.70 115.32 L375.95 115.08 L376.20 114.90 L398.50 114.90 L398.70 115.80 L398.95 115.59 L399.20 115.37 L399.45 115.16 L399.70 114.94 L399.95 114.73 L400.20 114.51 L400.45 114.30 L400.70 114.09 L400.95 114.13 L401.20 114.34 L401.45 114.56 L401.70 114.77 L401.95 114.99 L402.20 115.20 L402.45 115.41 L402.70 115.63 L402.95 115.76 L403.20 115.54 L403.45 115.33 L403.70 115.11 L403.95 114.90 L404.20 114.69 L404.45 114.47 L404.70 114.26 L404.95 114.04 L405.20 114.17 L405.45 114.39 L405.70 114.60 L405.95 114.81 L406.20 115.03 L406.45 115.24 L406.70 115.46 L406.95 115.67 L407.20 115.71 L407.45 115.50 L407.70 115.29 L407.95 115.07 L408.20 114.86 L408.45 114.64 L408.70 114.43 L408.95 114.21 L409.20 114.00 L409.45 114.21 L409.70 114.43 L409.95 114.64 L410.20 114.86 L410.45 115.07 L410.70 115.29 L410.95 115.50 L411.20 115.71 L411.45 115.67 L411.70 115.46 L411.95 115.24 L412.20 115.03 L412.45 114.81 L412.70 114.60 L412.95 114.39 L413.20 114.17 L413.45 114.04 L413.70 114.26 L413.95 114.47 L414.20 114.69 L414.45 114.90 L414.70 115.11 L414.95 115.33 L415.20 115.54 L415.45 115.76 L415.70 115.63 L415.95 115.41 L416.20 115.20 L416.45 114.99 L416.70 114.77 L416.95 114.56 L417.20 114.34 L417.45 114.13 L417.70 114.09 L417.95 114.30 L418.20 114.51 L418.45 114.73 L418.70 114.94 L418.95 115.16 L419.20 115.37 L419.45 115.59 L419.70 115.80 L419.95 115.59 L420.20 115.37 L420.45 115.16 L420.70 114.94 L420.95 114.73 L421.20 114.51 L421.45 114.30 L421.70 114.09 L421.95 114.13 L422.20 114.34 L422.45 114.56 L422.70 114.77 L422.95 114.99 L423.20 115.20 L423.45 115.41 L423.70 115.63 L423.95 115.76 L424.20 115.54 L424.45 115.33 L424.70 115.11 L424.95 114.90 L425.20 114.69 L425.45 114.47 L425.70 114.26 L425.95 114.04 L426.20 114.17 L426.45 114.39 L426.70 114.60 L426.95 114.81 L427.20 115.03 L427.45 115.24 L427.70 115.46 L427.95 115.67 L428.20 115.71 L428.45 115.50 L428.70 115.29 L428.95 115.07 L429.20 114.86 L429.45 114.64 L429.70 114.43 L429.95 114.21 L430.20 114.00 L430.45 114.21 L430.70 114.43 L430.95 114.64 L431.20 114.86 L431.45 115.07 L431.70 115.29 L431.95 115.50 L432.20 115.71 L432.45 115.67 L432.70 115.46 L432.95 115.24 L433.20 115.03 L433.45 114.81 L433.70 114.60 L433.95 114.39 L434.20 114.17 L434.45 114.04 L434.70 114.26 L434.95 114.47 L435.20 114.69 L435.45 114.90 L435.70 115.11 L435.95 115.33 L436.20 115.54 L436.45 115.76 L436.70 115.63 L436.95 115.41 L437.20 115.20 L437.45 114.99 L437.70 114.77 L437.95 114.56 L438.20 114.34 L438.45 114.13 L438.70 114.09 L438.95 114.30 L439.20 114.51 L439.45 114.73 L439.70 114.94 L439.95 115.16 L440.20 115.37 L440.45 115.59 L440.70 115.80 L440.95 115.59 L441.20 115.37 L441.45 115.16 L441.70 114.94 L441.95 114.73 L442.20 114.51 L442.45 114.30 L442.70 114.09 L442.95 114.13 L443.20 114.34 L443.45 114.56 L443.70 114.77 L443.95 114.99 L444.20 115.20 L444.45 115.41 L444.70 115.63 L444.95 115.76 L445.20 115.54 L445.45 115.33 L445.70 115.11 L445.95 114.90 L446.20 114.69 L446.45 114.47 L446.70 114.26 L446.95 114.04 L447.20 114.17 L447.45 114.39 L447.70 114.60 L447.95 114.81 L448.20 115.03 L448.45 115.24 L448.70 115.46 L448.95 115.67 L449.20 115.71 L449.45 115.50 L449.70 115.29 L449.95 115.07 L450.20 114.86 L450.45 114.64 L450.70 114.43 L450.95 114.21 L451.20 114.00 L451.45 114.21 L451.70 114.43 L451.95 114.64 L452.20 114.86 L452.45 115.07 L452.70 115.29 L452.95 115.50 L453.20 115.71 L453.45 115.67 L453.70 115.46 L453.95 115.24 L454.20 115.03 L454.45 114.81 L454.70 114.60 L454.95 114.39 L455.20 114.17 L455.45 114.04 L455.70 114.26 L455.95 114.47 L456.20 114.69 L456.45 114.90 L456.70 115.11 L456.95 115.33 L457.20 115.54 L457.45 115.76 L457.70 115.63 L457.95 115.41 L458.20 115.20 L458.45 114.99 L458.70 114.77 L458.95 114.56 L459.20 114.34 L459.45 114.13 L459.70 114.09 L459.95 114.30 L460.20 114.51 L460.45 114.73 L460.70 114.94 L460.95 115.16 L461.20 115.37 L461.45 115.59 L461.70 115.80 L461.95 115.59 L462.20 115.37 L462.45 115.16 L462.70 114.94 L462.95 114.73 L463.20 114.51 L463.45 114.30 L463.70 114.09 L463.95 114.13 L464.20 114.34 L464.45 114.56 L464.70 114.77 L464.95 114.99 L465.20 115.20 L465.45 115.41 L465.70 115.63 L465.95 115.76 L466.20 115.54 L466.45 115.33 L466.70 115.11 L466.95 114.90 L467.20 114.69 L467.45 114.47 L467.70 114.26 L467.95 114.04 L468.20 114.17 L468.45 114.39 L468.70 114.60 L468.95 114.81 L469.20 115.03 L469.45 115.24 L469.70 115.46 L469.95 115.67 L470.20 115.71 L470.45 115.50 L470.70 115.29 L470.95 115.07 L471.20 114.86 L471.45 114.64 L471.70 114.43 L471.95 114.21 L472.20 114.00 L472.45 114.21 L472.70 114.43 L472.95 114.64 L473.20 114.86 L473.45 115.07 L473.70 115.29 L473.95 115.50 L474.20 115.71 L474.45 115.67 L474.70 115.46 L474.95 115.24 L475.20 115.03 L475.45 114.81 L475.70 114.60 L475.95 114.39 L476.20 114.17 L476.45 114.04 L476.70 114.26 L476.95 114.47 L477.20 114.69 L477.45 114.90 L477.70 115.11 L477.95 115.33 L478.20 115.54 L478.45 115.76 L478.70 115.63 L478.95 115.41 L479.20 115.20 L479.45 114.99 L479.70 114.77 L479.95 114.56 L480.20 114.34 L480.45 114.13 L480.70 114.09 L480.95 114.30 L481.20 114.51 L481.45 114.73 L481.70 114.94 L481.95 115.16 L482.20 115.37 L482.45 115.59 L482.70 115.80 L482.95 115.59 L483.20 115.37 L483.45 115.16 L483.70 114.94 L483.95 114.73 L484.20 114.51 L484.45 114.30 L484.70 114.09 L484.95 114.13 L485.20 114.34 L485.45 114.56 L485.70 114.77 L485.95 114.99 L486.20 115.20 L486.45 115.41 L486.70 115.63 L486.95 115.76 L487.20 115.54 L487.45 115.33 L487.70 115.11 L487.95 114.90 L488.20 114.69 L488.45 114.47 L488.70 114.26 L488.95 114.04 L489.20 114.17 L489.45 114.39 L489.70 114.60 L489.95 114.81 L490.20 115.03 L490.45 115.24 L490.70 115.46 L490.95 115.67 L491.20 115.71 L491.45 115.50 L491.70 115.29 L491.95 115.07 L492.20 114.86 L492.45 114.64 L492.70 114.43 L492.95 114.21 L493.20 114.00 L493.45 114.21 L493.70 114.43 L493.95 114.64 L494.20 114.86 L494.45 115.07 L494.70 115.29 L494.95 115.50 L495.20 115.71 L495.45 115.67 L495.70 115.46 L495.95 115.24 L496.20 115.03 L496.45 114.81 L496.70 114.60 L496.95 114.39 L497.20 114.17 L497.45 114.04 L497.70 114.26 L497.95 114.47 L498.20 114.69 L498.45 114.90 L498.70 115.11 L498.95 115.33 L499.20 115.54 L499.45 115.76 L499.70 115.63 L499.95 115.41 L500.20 115.20 L500.45 114.99 L500.70 114.77 L500.95 114.56 L501.20 114.34 L501.45 114.13 L501.70 114.09 L501.95 114.30 L502.20 114.51 L502.45 114.73 L502.70 114.94 L502.95 115.16 L503.20 115.37 L503.45 115.59 L503.70 115.80 L503.95 115.59 L504.20 115.37 L504.45 115.16 L504.70 114.94 L504.95 114.73 L505.20 114.51 L505.45 114.30 L505.70 114.09 L505.95 114.13 L506.20 114.34 L506.45 114.56 L506.70 114.77 L506.95 114.99 L507.20 115.20 L507.45 115.41 L507.70 115.63 L507.95 115.76 L508.20 115.54 L508.45 115.33 L508.70 115.11 L508.95 114.90 L509.20 114.69 L509.45 114.47 L509.70 114.26 L509.95 114.04 L510.20 114.17 L510.45 114.39 L510.70 114.60 L510.95 114.81 L511.20 115.03 L511.45 115.24 L511.70 115.46 L511.95 115.67 L512.20 115.71 L512.45 115.50 L512.70 115.29 L512.95 115.07 L513.20 114.86 L513.45 114.64 L513.70 114.43 L513.95 114.21 L514.20 114.00 L514.45 114.21 L514.70 114.43 L514.95 114.64 L515.20 114.86 L515.45 115.07 L515.70 115.29 L515.95 115.50 L516.20 115.71 L516.45 115.67 L516.70 115.46 L516.95 115.24 L517.20 115.03 L517.45 114.81 L517.70 114.60" stroke="#3f58ec" stroke-width="2.6" opacity="0.62" filter="url(#bl06)"/>
<path d="M345.20 115.80 L345.45 115.56 L345.70 115.32 L345.95 115.08 L346.20 114.84 L346.45 114.60 L346.70 114.36 L346.95 114.12 L347.20 114.12 L347.45 114.36 L347.70 114.60 L347.95 114.84 L348.20 115.08 L348.45 115.32 L348.70 115.56 L348.95 115.80 L349.20 115.56 L349.45 115.32 L349.70 115.08 L349.95 114.84 L350.20 114.60 L350.45 114.36 L350.70 114.12 L350.95 114.12 L351.20 114.36 L351.45 114.60 L351.70 114.84 L351.95 115.08 L352.20 115.32 L352.45 115.56 L352.70 115.80 L352.95 115.56 L353.20 115.32 L353.45 115.08 L353.70 114.84 L353.95 114.60 L354.20 114.36 L354.45 114.12 L354.70 114.12 L354.95 114.36 L355.20 114.60 L355.45 114.84 L355.70 115.08 L355.95 115.32 L356.20 115.56 L356.45 115.80 L356.70 115.56 L356.95 115.32 L357.20 115.08 L357.45 114.84 L357.70 114.60 L357.95 114.36 L358.20 114.12 L358.45 114.12 L358.70 114.36 L358.95 114.60 L359.20 114.84 L359.45 115.08 L359.70 115.32 L359.95 115.56 L360.20 115.80 L360.45 115.56 L360.70 115.32 L360.95 115.08 L361.20 114.84 L361.45 114.60 L361.70 114.36 L361.95 114.12 L362.20 114.12 L362.45 114.36 L362.70 114.60 L362.95 114.84 L363.20 115.08 L363.45 115.32 L363.70 115.56 L363.95 115.80 L364.20 115.56 L364.45 115.32 L364.70 115.08 L364.95 114.84 L365.20 114.60 L365.45 114.36 L365.70 114.12 L365.95 114.12 L366.20 114.36 L366.45 114.60 L366.70 114.84 L366.95 115.08 L367.20 115.32 L367.45 115.56 L367.70 115.80 L367.95 115.56 L368.20 115.32 L368.45 115.08 L368.70 114.84 L368.95 114.60 L369.20 114.36 L369.45 114.12 L369.70 114.12 L369.95 114.36 L370.20 114.60 L370.45 114.84 L370.70 115.08 L370.95 115.32 L371.20 115.56 L371.45 115.80 L371.70 115.56 L371.95 115.32 L372.20 115.08 L372.45 114.84 L372.70 114.60 L372.95 114.36 L373.20 114.12 L373.45 114.12 L373.70 114.36 L373.95 114.60 L374.20 114.84 L374.45 115.08 L374.70 115.32 L374.95 115.56 L375.20 115.80 L375.45 115.56 L375.70 115.32 L375.95 115.08 L376.20 114.90 L398.50 114.90 L398.70 115.80 L398.95 115.59 L399.20 115.37 L399.45 115.16 L399.70 114.94 L399.95 114.73 L400.20 114.51 L400.45 114.30 L400.70 114.09 L400.95 114.13 L401.20 114.34 L401.45 114.56 L401.70 114.77 L401.95 114.99 L402.20 115.20 L402.45 115.41 L402.70 115.63 L402.95 115.76 L403.20 115.54 L403.45 115.33 L403.70 115.11 L403.95 114.90 L404.20 114.69 L404.45 114.47 L404.70 114.26 L404.95 114.04 L405.20 114.17 L405.45 114.39 L405.70 114.60 L405.95 114.81 L406.20 115.03 L406.45 115.24 L406.70 115.46 L406.95 115.67 L407.20 115.71 L407.45 115.50 L407.70 115.29 L407.95 115.07 L408.20 114.86 L408.45 114.64 L408.70 114.43 L408.95 114.21 L409.20 114.00 L409.45 114.21 L409.70 114.43 L409.95 114.64 L410.20 114.86 L410.45 115.07 L410.70 115.29 L410.95 115.50 L411.20 115.71 L411.45 115.67 L411.70 115.46 L411.95 115.24 L412.20 115.03 L412.45 114.81 L412.70 114.60 L412.95 114.39 L413.20 114.17 L413.45 114.04 L413.70 114.26 L413.95 114.47 L414.20 114.69 L414.45 114.90 L414.70 115.11 L414.95 115.33 L415.20 115.54 L415.45 115.76 L415.70 115.63 L415.95 115.41 L416.20 115.20 L416.45 114.99 L416.70 114.77 L416.95 114.56 L417.20 114.34 L417.45 114.13 L417.70 114.09 L417.95 114.30 L418.20 114.51 L418.45 114.73 L418.70 114.94 L418.95 115.16 L419.20 115.37 L419.45 115.59 L419.70 115.80 L419.95 115.59 L420.20 115.37 L420.45 115.16 L420.70 114.94 L420.95 114.73 L421.20 114.51 L421.45 114.30 L421.70 114.09 L421.95 114.13 L422.20 114.34 L422.45 114.56 L422.70 114.77 L422.95 114.99 L423.20 115.20 L423.45 115.41 L423.70 115.63 L423.95 115.76 L424.20 115.54 L424.45 115.33 L424.70 115.11 L424.95 114.90 L425.20 114.69 L425.45 114.47 L425.70 114.26 L425.95 114.04 L426.20 114.17 L426.45 114.39 L426.70 114.60 L426.95 114.81 L427.20 115.03 L427.45 115.24 L427.70 115.46 L427.95 115.67 L428.20 115.71 L428.45 115.50 L428.70 115.29 L428.95 115.07 L429.20 114.86 L429.45 114.64 L429.70 114.43 L429.95 114.21 L430.20 114.00 L430.45 114.21 L430.70 114.43 L430.95 114.64 L431.20 114.86 L431.45 115.07 L431.70 115.29 L431.95 115.50 L432.20 115.71 L432.45 115.67 L432.70 115.46 L432.95 115.24 L433.20 115.03 L433.45 114.81 L433.70 114.60 L433.95 114.39 L434.20 114.17 L434.45 114.04 L434.70 114.26 L434.95 114.47 L435.20 114.69 L435.45 114.90 L435.70 115.11 L435.95 115.33 L436.20 115.54 L436.45 115.76 L436.70 115.63 L436.95 115.41 L437.20 115.20 L437.45 114.99 L437.70 114.77 L437.95 114.56 L438.20 114.34 L438.45 114.13 L438.70 114.09 L438.95 114.30 L439.20 114.51 L439.45 114.73 L439.70 114.94 L439.95 115.16 L440.20 115.37 L440.45 115.59 L440.70 115.80 L440.95 115.59 L441.20 115.37 L441.45 115.16 L441.70 114.94 L441.95 114.73 L442.20 114.51 L442.45 114.30 L442.70 114.09 L442.95 114.13 L443.20 114.34 L443.45 114.56 L443.70 114.77 L443.95 114.99 L444.20 115.20 L444.45 115.41 L444.70 115.63 L444.95 115.76 L445.20 115.54 L445.45 115.33 L445.70 115.11 L445.95 114.90 L446.20 114.69 L446.45 114.47 L446.70 114.26 L446.95 114.04 L447.20 114.17 L447.45 114.39 L447.70 114.60 L447.95 114.81 L448.20 115.03 L448.45 115.24 L448.70 115.46 L448.95 115.67 L449.20 115.71 L449.45 115.50 L449.70 115.29 L449.95 115.07 L450.20 114.86 L450.45 114.64 L450.70 114.43 L450.95 114.21 L451.20 114.00 L451.45 114.21 L451.70 114.43 L451.95 114.64 L452.20 114.86 L452.45 115.07 L452.70 115.29 L452.95 115.50 L453.20 115.71 L453.45 115.67 L453.70 115.46 L453.95 115.24 L454.20 115.03 L454.45 114.81 L454.70 114.60 L454.95 114.39 L455.20 114.17 L455.45 114.04 L455.70 114.26 L455.95 114.47 L456.20 114.69 L456.45 114.90 L456.70 115.11 L456.95 115.33 L457.20 115.54 L457.45 115.76 L457.70 115.63 L457.95 115.41 L458.20 115.20 L458.45 114.99 L458.70 114.77 L458.95 114.56 L459.20 114.34 L459.45 114.13 L459.70 114.09 L459.95 114.30 L460.20 114.51 L460.45 114.73 L460.70 114.94 L460.95 115.16 L461.20 115.37 L461.45 115.59 L461.70 115.80 L461.95 115.59 L462.20 115.37 L462.45 115.16 L462.70 114.94 L462.95 114.73 L463.20 114.51 L463.45 114.30 L463.70 114.09 L463.95 114.13 L464.20 114.34 L464.45 114.56 L464.70 114.77 L464.95 114.99 L465.20 115.20 L465.45 115.41 L465.70 115.63 L465.95 115.76 L466.20 115.54 L466.45 115.33 L466.70 115.11 L466.95 114.90 L467.20 114.69 L467.45 114.47 L467.70 114.26 L467.95 114.04 L468.20 114.17 L468.45 114.39 L468.70 114.60 L468.95 114.81 L469.20 115.03 L469.45 115.24 L469.70 115.46 L469.95 115.67 L470.20 115.71 L470.45 115.50 L470.70 115.29 L470.95 115.07 L471.20 114.86 L471.45 114.64 L471.70 114.43 L471.95 114.21 L472.20 114.00 L472.45 114.21 L472.70 114.43 L472.95 114.64 L473.20 114.86 L473.45 115.07 L473.70 115.29 L473.95 115.50 L474.20 115.71 L474.45 115.67 L474.70 115.46 L474.95 115.24 L475.20 115.03 L475.45 114.81 L475.70 114.60 L475.95 114.39 L476.20 114.17 L476.45 114.04 L476.70 114.26 L476.95 114.47 L477.20 114.69 L477.45 114.90 L477.70 115.11 L477.95 115.33 L478.20 115.54 L478.45 115.76 L478.70 115.63 L478.95 115.41 L479.20 115.20 L479.45 114.99 L479.70 114.77 L479.95 114.56 L480.20 114.34 L480.45 114.13 L480.70 114.09 L480.95 114.30 L481.20 114.51 L481.45 114.73 L481.70 114.94 L481.95 115.16 L482.20 115.37 L482.45 115.59 L482.70 115.80 L482.95 115.59 L483.20 115.37 L483.45 115.16 L483.70 114.94 L483.95 114.73 L484.20 114.51 L484.45 114.30 L484.70 114.09 L484.95 114.13 L485.20 114.34 L485.45 114.56 L485.70 114.77 L485.95 114.99 L486.20 115.20 L486.45 115.41 L486.70 115.63 L486.95 115.76 L487.20 115.54 L487.45 115.33 L487.70 115.11 L487.95 114.90 L488.20 114.69 L488.45 114.47 L488.70 114.26 L488.95 114.04 L489.20 114.17 L489.45 114.39 L489.70 114.60 L489.95 114.81 L490.20 115.03 L490.45 115.24 L490.70 115.46 L490.95 115.67 L491.20 115.71 L491.45 115.50 L491.70 115.29 L491.95 115.07 L492.20 114.86 L492.45 114.64 L492.70 114.43 L492.95 114.21 L493.20 114.00 L493.45 114.21 L493.70 114.43 L493.95 114.64 L494.20 114.86 L494.45 115.07 L494.70 115.29 L494.95 115.50 L495.20 115.71 L495.45 115.67 L495.70 115.46 L495.95 115.24 L496.20 115.03 L496.45 114.81 L496.70 114.60 L496.95 114.39 L497.20 114.17 L497.45 114.04 L497.70 114.26 L497.95 114.47 L498.20 114.69 L498.45 114.90 L498.70 115.11 L498.95 115.33 L499.20 115.54 L499.45 115.76 L499.70 115.63 L499.95 115.41 L500.20 115.20 L500.45 114.99 L500.70 114.77 L500.95 114.56 L501.20 114.34 L501.45 114.13 L501.70 114.09 L501.95 114.30 L502.20 114.51 L502.45 114.73 L502.70 114.94 L502.95 115.16 L503.20 115.37 L503.45 115.59 L503.70 115.80 L503.95 115.59 L504.20 115.37 L504.45 115.16 L504.70 114.94 L504.95 114.73 L505.20 114.51 L505.45 114.30 L505.70 114.09 L505.95 114.13 L506.20 114.34 L506.45 114.56 L506.70 114.77 L506.95 114.99 L507.20 115.20 L507.45 115.41 L507.70 115.63 L507.95 115.76 L508.20 115.54 L508.45 115.33 L508.70 115.11 L508.95 114.90 L509.20 114.69 L509.45 114.47 L509.70 114.26 L509.95 114.04 L510.20 114.17 L510.45 114.39 L510.70 114.60 L510.95 114.81 L511.20 115.03 L511.45 115.24 L511.70 115.46 L511.95 115.67 L512.20 115.71 L512.45 115.50 L512.70 115.29 L512.95 115.07 L513.20 114.86 L513.45 114.64 L513.70 114.43 L513.95 114.21 L514.20 114.00 L514.45 114.21 L514.70 114.43 L514.95 114.64 L515.20 114.86 L515.45 115.07 L515.70 115.29 L515.95 115.50 L516.20 115.71 L516.45 115.67 L516.70 115.46 L516.95 115.24 L517.20 115.03 L517.45 114.81 L517.70 114.60" stroke="#3cb0ee" stroke-width="1.1" filter="url(#bl03)"/>
</g>
<path d="M345.20 152.3 H517.90" stroke="#4550d8" stroke-width="2.0" opacity="0.5" filter="url(#bl05)"/>
<path d="M345.20 152.3 H517.90" stroke="#62a88e" stroke-width="0.75"/>
</g>
<rect x="525.7" y="8.80" width="4.4" height="160.90" fill="url(#parula)"/>
<g font-size="8.2" fill="#161616" stroke="#161616" stroke-width="0.15">
<text x="342.6" y="19.00" text-anchor="end">500</text>
<text x="342.6" y="49.60" text-anchor="end">400</text>
<text x="342.6" y="80.20" text-anchor="end">300</text>
<text x="342.6" y="111.50" text-anchor="end">200</text>
<text x="342.6" y="141.50" text-anchor="end">100</text>
<text x="345.20" y="179.6" text-anchor="middle">0</text>
<text x="379.74" y="179.6" text-anchor="middle">0.2</text>
<text x="414.28" y="179.6" text-anchor="middle">0.4</text>
<text x="448.82" y="179.6" text-anchor="middle">0.6</text>
<text x="483.36" y="179.6" text-anchor="middle">0.8</text>
<text x="517.90" y="179.6" text-anchor="middle">1</text>
<text x="531.8" y="34.30" font-size="7.9">0.06</text>
<text x="531.8" y="57.20" font-size="7.9">0.05</text>
<text x="531.8" y="80.90" font-size="7.9">0.04</text>
<text x="531.8" y="104.30" font-size="7.9">0.03</text>
<text x="531.8" y="127.10" font-size="7.9">0.02</text>
<text x="531.8" y="149.90" font-size="7.9">0.01</text>
<text x="531.8" y="172.90" font-size="7.9">0</text>
</g>
<text x="432.4" y="189.5" text-anchor="middle" font-size="9.6" textLength="32.4" lengthAdjust="spacingAndGlyphs" fill="#161616" stroke="#161616" stroke-width="0.15">Time [s]</text>
<text transform="translate(325.5 89.2) rotate(-90)" text-anchor="middle" font-size="9.3" textLength="63.3" lengthAdjust="spacingAndGlyphs" fill="#161616" stroke="#161616" stroke-width="0.15">Frequency [Hz]</text>
<text x="436.8" y="207.3" text-anchor="middle" font-size="11.8" font-weight="bold" fill="#111">(b)</text>
</g>
<g id="plotC">
<rect x="135.10" y="216.00" width="282.30" height="137.20" fill="#3E26A8"/>
<g clip-path="url(#clipC)">
<g filter="url(#bl08)" fill="none" stroke-linecap="round">
<path d="M137.00 220.63 L138.20 241.00 M139.60 225.62 L138.20 241.00 M144.45 221.60 L145.65 241.00 M147.05 221.33 L145.65 241.00 M151.90 220.97 L153.10 241.00 M154.50 222.43 L153.10 241.00 M159.35 219.20 L160.55 241.00 M161.95 221.91 L160.55 241.00 M166.80 221.98 L168.00 241.00 M169.40 221.19 L168.00 241.00 M174.25 220.56 L175.45 241.00 M176.85 223.54 L175.45 241.00" stroke="#4448dc" stroke-width="1.2" opacity="0.6"/>
</g><g filter="url(#bl05)" fill="none" stroke-linecap="round">
<path d="M141.90 254 L139.80 277 M141.90 254 L144.00 277 M149.35 254 L147.25 277 M149.35 254 L151.45 277 M156.80 254 L154.70 277 M156.80 254 L158.90 277 M164.25 254 L162.15 277 M164.25 254 L166.35 277 M171.70 254 L169.60 277 M171.70 254 L173.80 277 M179.15 254 L177.05 277 M179.15 254 L181.25 277" stroke="#4a5eec" stroke-width="1.1" opacity="0.6"/>
<path d="M198.60 248.5 V287 M202.25 248.5 V287 M205.90 248.5 V287 M209.55 248.5 V287 M213.20 248.5 V287 M216.85 248.5 V287" stroke="#4a66f0" stroke-width="1.0" opacity="0.75"/>
</g><g filter="url(#bl08)" fill="none" stroke-linecap="round">
<path d="M199.00 226 V247 M202.65 226 V247 M206.30 226 V247 M209.95 226 V247 M213.60 226 V247 M217.25 226 V247" stroke="#4448dc" stroke-width="1.1" opacity="0.5"/>
<path d="M300.00 250.14 l0.62 9.63 M303.15 254.86 l-1.06 15.99 M306.16 243.29 l-0.28 16.55 M309.63 258.52 l-0.62 10.71 M312.99 241.61 l-1.43 8.49 M317.07 250.71 l1.43 17.71 M320.31 253.43 l-0.85 19.03 M324.54 253.33 l1.11 19.46 M327.62 252.45 l-0.22 9.08 M331.10 237.56 l-0.52 12.60 M334.85 243.28 l-0.29 9.90 M338.53 240.33 l-0.78 15.98 M341.27 244.89 l-1.05 13.07 M345.22 254.24 l0.60 14.64 M347.78 246.18 l-1.31 12.37 M351.29 237.42 l0.26 13.95 M354.96 244.46 l-1.43 11.04 M358.33 259.19 l-0.71 14.79 M362.50 240.84 l0.35 13.63 M367.39 245.43 l1.33 14.91 M371.82 252.31 l-0.27 15.45 M375.36 243.18 l1.14 17.96 M378.81 259.65 l-1.09 8.46 M382.58 244.02 l1.43 12.32 M385.45 241.00 l0.54 10.74 M388.54 236.02 l-0.32 14.53 M391.64 248.83 l0.14 15.80 M395.70 250.58 l1.41 17.97 M399.03 245.01 l-0.56 18.64 M403.32 254.08 l1.39 16.24 M407.88 240.15 l-0.03 15.46 M411.79 245.61 l0.75 11.43 M415.63 242.16 l-0.53 10.99" stroke="#4242d6" stroke-width="1.1" opacity="0.5"/>
<path d="M300.00 265.08 l1.8 7 M303.50 265.08 l-1.8 7 M307.05 262.76 l1.8 7 M310.55 262.76 l-1.8 7 M314.10 262.38 l1.8 7 M317.60 262.38 l-1.8 7 M321.15 262.41 l1.8 7 M324.65 262.41 l-1.8 7 M328.20 262.61 l1.8 7 M331.70 262.61 l-1.8 7 M335.25 266.23 l1.8 7 M338.75 266.23 l-1.8 7 M342.30 262.68 l1.8 7 M345.80 262.68 l-1.8 7 M349.35 264.71 l1.8 7 M352.85 264.71 l-1.8 7 M356.40 266.63 l1.8 7 M359.90 266.63 l-1.8 7 M363.45 264.88 l1.8 7 M366.95 264.88 l-1.8 7 M370.50 262.98 l1.8 7 M374.00 262.98 l-1.8 7 M377.55 267.20 l1.8 7 M381.05 267.20 l-1.8 7 M384.60 267.22 l1.8 7 M388.10 267.22 l-1.8 7 M391.65 262.32 l1.8 7 M395.15 262.32 l-1.8 7 M398.70 263.52 l1.8 7 M402.20 263.52 l-1.8 7 M405.75 265.04 l1.8 7 M409.25 265.04 l-1.8 7 M412.80 266.78 l1.8 7 M416.30 266.78 l-1.8 7" stroke="#4450e4" stroke-width="1.0" opacity="0.6"/>
<path d="M220.00 221.14 l-0.50 13.16 M225.15 220.61 l0.52 9.34 M230.68 224.63 l-0.16 11.67 M235.80 222.98 l0.60 14.31 M239.17 221.02 l-0.54 12.69 M242.73 218.11 l0.88 11.86 M248.64 219.07 l-0.16 12.88 M253.53 221.17 l0.98 15.33 M256.68 223.71 l-0.92 7.18 M260.54 223.85 l-0.76 15.94 M264.53 218.21 l-0.03 11.43 M268.65 220.47 l0.68 14.00 M272.50 221.13 l0.53 12.18 M278.44 221.11 l0.09 12.94 M283.84 219.18 l-0.79 7.75 M289.64 220.01 l-0.76 10.88 M293.61 218.15 l-0.71 11.66 M298.49 220.19 l-0.04 8.28" stroke="#4242d6" stroke-width="1.0" opacity="0.45"/>
</g>
<g filter="url(#bl06)" fill="none" stroke-linejoin="round" stroke-linecap="round">
<path d="M135.10 281.00 L138.70 275.60 L142.40 281.60 L146.10 275.60 L149.80 281.60 L153.50 275.60 L157.20 281.60 L160.90 275.60 L164.60 281.60 L168.30 275.60 L172.00 281.60 L175.70 275.60" stroke="#4458ea" stroke-width="4.5" opacity="0.32" filter="url(#bl12)"/>
<path d="M135.10 281.00 L138.70 275.60 L142.40 281.60 L146.10 275.60 L149.80 281.60 L153.50 275.60 L157.20 281.60 L160.90 275.60 L164.60 281.60 L168.30 275.60 L172.00 281.60 L175.70 275.60 L180.50 284.50 L185.00 292.70" stroke="#4664f0" stroke-width="1.7" opacity="0.9"/>
<path d="M135.10 281.00 L138.70 275.60 L142.40 281.60 L146.10 275.60 L149.80 281.60 L153.50 275.60 L157.20 281.60 L160.90 275.60 L164.60 281.60 L168.30 275.60 L172.00 281.60 L175.70 275.60" stroke="#4f8cfa" stroke-width="0.8" opacity="0.75"/>
<path d="M178.00 282.00 L182.00 283.50 L189.30 275.60 L193.00 279.00 L198.00 277.80 L218.00 278.40" stroke="#4664f0" stroke-width="1.6" opacity="0.9"/>
<path d="M178.00 282.00 L182.00 283.50 L189.30 275.60 L193.00 279.00 L198.00 277.80 L218.00 278.40" stroke="#4f8cfa" stroke-width="0.7" opacity="0.7"/>
<path d="M135.10 248.00 L138.20 242.20 L141.92 253.50 L145.65 242.20 L149.38 253.50 L153.10 242.20 L156.82 253.50 L160.55 242.20 L164.27 253.50 L168.00 242.20 L171.72 253.50 L175.45 242.20 L179.30 255.00" stroke="#4458ea" stroke-width="5" opacity="0.32" filter="url(#bl12)"/>
<path d="M135.10 248.00 L138.20 242.20 L141.92 253.50 L145.65 242.20 L149.38 253.50 L153.10 242.20 L156.82 253.50 L160.55 242.20 L164.27 253.50 L168.00 242.20 L171.72 253.50 L175.45 242.20 L179.30 255.00" stroke="#4664f0" stroke-width="1.7" opacity="0.9"/>
<path d="M135.10 248.00 L138.20 242.20 L141.92 253.50 L145.65 242.20 L149.38 253.50 L153.10 242.20 L156.82 253.50 L160.55 242.20 L164.27 253.50 L168.00 242.20 L171.72 253.50 L175.45 242.20 L179.30 255.00" stroke="#4f8cfa" stroke-width="0.75" opacity="0.7"/>
<path d="M177.5 251 L183 224.5 L186.5 250 M180 226 L184.5 246" stroke="#4454e6" stroke-width="1.3" opacity="0.6"/>
<path d="M186.50 250.00 L189.00 243.20 L191.00 243.50 L194.50 252.00 L198.60 249.00 L218.00 249.00" stroke="#4458ea" stroke-width="1.4" opacity="0.7"/>
<path d="M189 245 L181.5 278 M189.5 245 L197 277 M183 224.5 L178 243" stroke="#4658e8" stroke-width="1.15" opacity="0.6"/>
<path d="M197.8 294 H216.5" stroke="#4a78f8" stroke-width="1.3"/>
<path d="M186 293 L189 296.5" stroke="#4458ea" stroke-width="1" opacity="0.6"/>
</g>
<g filter="url(#bl06)">
<circle cx="138.50" cy="242.6" r="1.2" fill="#4f8cfa" opacity="0.8"/>
<circle cx="145.95" cy="242.6" r="1.2" fill="#4f8cfa" opacity="0.8"/>
<circle cx="153.40" cy="242.6" r="1.2" fill="#4f8cfa" opacity="0.8"/>
<circle cx="160.85" cy="242.6" r="1.2" fill="#4f8cfa" opacity="0.8"/>
<circle cx="168.30" cy="242.6" r="1.2" fill="#4f8cfa" opacity="0.8"/>
<circle cx="175.75" cy="242.6" r="1.2" fill="#4f8cfa" opacity="0.8"/>
<circle cx="138.70" cy="276.2" r="1.1" fill="#4f90fa" opacity="0.8"/>
<circle cx="146.10" cy="276.2" r="1.1" fill="#4f90fa" opacity="0.8"/>
<circle cx="153.50" cy="276.2" r="1.1" fill="#4f90fa" opacity="0.8"/>
<circle cx="160.90" cy="276.2" r="1.1" fill="#4f90fa" opacity="0.8"/>
<circle cx="168.30" cy="276.2" r="1.1" fill="#4f90fa" opacity="0.8"/>
<circle cx="175.70" cy="276.2" r="1.1" fill="#4f90fa" opacity="0.8"/>
<circle cx="189.6" cy="244" r="1.7" fill="#4f8ffa" opacity="0.9"/>
<circle cx="189.3" cy="276.2" r="1.2" fill="#4f8ffa" opacity="0.8"/>
</g>
<g filter="url(#bl06)" fill="none" stroke-linejoin="round" stroke-linecap="round">
<path d="M218.00 262.40 L223.60 244.70 L227.70 249.40 L232.00 242.90 L234.80 250.30 L237.60 244.70 L247.80 269.90 L258.10 243.80 L268.30 268.00 L279.50 241.90 L286.90 266.10 L293.50 244.70 L301.00 266.00 L305.00 272.00" stroke="#4458ea" stroke-width="4.5" opacity="0.28" filter="url(#bl12)"/>
<path d="M218.00 278.40 L223.60 274.50 L227.30 280.10 L232.00 275.50 L235.70 280.10 L239.50 278.80 L244.10 280.30 L248.80 275.80 L253.40 279.50 L258.10 274.50 L266.50 280.30 L272.00 276.40 L275.80 279.20 L279.50 274.50 L285.10 279.50 L292.50 275.50 L298.10 282.00 L305.00 288.50" stroke="#4458ea" stroke-width="4.5" opacity="0.3" filter="url(#bl12)"/>
<path d="M178.00 282.00 L182.00 283.50 L189.30 275.60 L193.00 279.00 L198.00 277.80 L218.00 278.40" stroke="#4458ea" stroke-width="4" opacity="0.3" filter="url(#bl12)"/>
<path d="M218.00 262.40 L223.60 244.70 L227.70 249.40 L232.00 242.90 L234.80 250.30 L237.60 244.70 L247.80 269.90 L258.10 243.80 L268.30 268.00 L279.50 241.90 L286.90 266.10 L293.50 244.70 L301.00 266.00 L305.00 272.00" stroke="#4458ea" stroke-width="1.6" opacity="0.85"/>
<path d="M218.00 262.40 L223.60 244.70 L227.70 249.40 L232.00 242.90 L234.80 250.30 L237.60 244.70 L247.80 269.90 L258.10 243.80 L268.30 268.00 L279.50 241.90 L286.90 266.10 L293.50 244.70 L301.00 266.00 L305.00 272.00" stroke="#4c80f8" stroke-width="0.7" opacity="0.45"/>
<path d="M236.00 262.00 L242.20 268.00 L249.70 254.00 L253.80 268.00 L260.90 254.00 L264.60 266.10 L269.20 252.20 L275.80 268.00 L283.20 256.80 L288.80 268.00 L296.20 254.00 L301.80 264.30 L304.00 275.00" stroke="#4454e6" stroke-width="1.4" opacity="0.7"/>
<path d="M218.00 278.40 L223.60 274.50 L227.30 280.10 L232.00 275.50 L235.70 280.10 L239.50 278.80 L244.10 280.30 L248.80 275.80 L253.40 279.50 L258.10 274.50 L266.50 280.30 L272.00 276.40 L275.80 279.20 L279.50 274.50 L285.10 279.50 L292.50 275.50 L298.10 282.00 L305.00 288.50" stroke="#4664f0" stroke-width="1.6" opacity="0.9"/>
<path d="M218.00 278.40 L223.60 274.50 L227.30 280.10 L232.00 275.50 L235.70 280.10 L239.50 278.80 L244.10 280.30 L248.80 275.80 L253.40 279.50 L258.10 274.50 L266.50 280.30 L272.00 276.40 L275.80 279.20 L279.50 274.50 L285.10 279.50 L292.50 275.50 L298.10 282.00 L305.00 288.50" stroke="#4f8cfa" stroke-width="0.7" opacity="0.6"/>
<path d="M238.50 222.40 L242.20 228.90 L245.00 225.20 L248.80 232.60 L250.60 224.20 L253.40 232.60" stroke="#4454e6" stroke-width="1.3" opacity="0.65"/>
<path d="M261.80 228.00 L265.50 232.60 L267.40 229.80 L270.20 232.60 L273.90 227.00 L275.80 232.60" stroke="#4454e6" stroke-width="1.3" opacity="0.65"/>
<path d="M283.20 227.00 L286.00 222.40" stroke="#4454e6" stroke-width="1.3" opacity="0.65"/>
<path d="M247.80 269.90 L252.39 281.24 M237.60 244.70 L233.01 233.36 M258.10 243.80 L262.74 232.06 M247.80 269.90 L243.17 281.64 M268.30 268.00 L272.89 278.89 M258.10 243.80 L253.51 232.91 M279.50 241.90 L284.54 230.16 M268.30 268.00 L263.26 279.75 M286.90 266.10 L290.23 276.99 M279.50 241.90 L276.17 231.01 M293.50 244.70 L296.47 235.07 M286.90 266.10 L283.93 275.73 M301.00 266.00 L304.38 275.58 M293.50 244.70 L290.12 235.11 M305.00 272.00 L306.80 274.70 M301.00 266.00 L299.20 263.30" stroke="#4450e2" stroke-width="1.2" opacity="0.5"/>
<path d="M247.80 269.90 L251.00 279.00 M268.30 268.00 L266.50 280.00 M286.90 266.10 L285.10 279.50 M242.20 268.00 L244.10 280.00 M275.80 268.00 L275.80 279.00" stroke="#4454e6" stroke-width="1.2" opacity="0.55"/>
<path d="M232 284 L236 290 M240 287 L246 292 M252 286 L256 291 M262 288 L268 292 M276 286 L280 292" stroke="#4250e0" stroke-width="1.0" opacity="0.45"/>
</g>
<g filter="url(#bl06)">
<circle cx="223.60" cy="245.50" r="1.3" fill="#4c84f8" opacity="0.85"/>
<circle cx="232.00" cy="243.70" r="1.3" fill="#4c84f8" opacity="0.85"/>
<circle cx="237.60" cy="245.50" r="1.3" fill="#4c84f8" opacity="0.85"/>
<circle cx="258.10" cy="244.80" r="1.3" fill="#4c84f8" opacity="0.85"/>
<circle cx="279.50" cy="242.90" r="1.3" fill="#4c84f8" opacity="0.85"/>
<circle cx="293.50" cy="245.70" r="1.3" fill="#4c84f8" opacity="0.85"/>
<circle cx="223.60" cy="275.20" r="1.1" fill="#4f8cfa" opacity="0.8"/>
<circle cx="232.00" cy="276.20" r="1.1" fill="#4f8cfa" opacity="0.8"/>
<circle cx="248.80" cy="276.50" r="1.1" fill="#4f8cfa" opacity="0.8"/>
<circle cx="258.10" cy="275.20" r="1.1" fill="#4f8cfa" opacity="0.8"/>
<circle cx="279.50" cy="275.20" r="1.1" fill="#4f8cfa" opacity="0.8"/>
<circle cx="292.50" cy="276.20" r="1.1" fill="#4f8cfa" opacity="0.8"/>
<circle cx="272.00" cy="277.00" r="1.1" fill="#4f8cfa" opacity="0.8"/>
</g>
<rect x="301" y="288" width="118" height="32" fill="#4150dc" opacity="0.42" filter="url(#bl20)"/>
<rect x="303" y="272" width="118" height="14" fill="#4148d8" opacity="0.3" filter="url(#bl20)"/>
<g filter="url(#bl07)" fill="none" stroke-linejoin="round" stroke-linecap="round">
<path d="M298.10 282.00 L301.40 274.70 L304.90 284.40 L308.42 274.70 L311.95 284.40 L315.47 274.70 L319.00 284.40 L322.52 274.70 L326.05 284.40 L329.57 274.70 L333.10 284.40 L336.62 274.70 L340.15 284.40 L343.68 274.70 L347.20 284.40 L350.73 274.70 L354.25 284.40 L357.78 274.70 L361.30 284.40 L364.83 274.70 L368.35 284.40 L371.88 274.70 L375.40 284.40 L378.93 274.70 L382.45 284.40 L385.98 274.70 L389.50 284.40 L393.03 274.70 L396.55 284.40 L400.08 274.70 L403.60 284.40 L407.13 274.70 L410.65 284.40 L414.18 274.70 L417.70 284.40 L421.23 274.70" stroke="#4668f2" stroke-width="1.9" opacity="0.88"/>
<path d="M298.10 282.00 L301.40 274.70 L304.90 284.40 L308.42 274.70 L311.95 284.40 L315.47 274.70 L319.00 284.40 L322.52 274.70 L326.05 284.40 L329.57 274.70 L333.10 284.40 L336.62 274.70 L340.15 284.40 L343.68 274.70 L347.20 284.40 L350.73 274.70 L354.25 284.40 L357.78 274.70 L361.30 284.40 L364.83 274.70 L368.35 284.40 L371.88 274.70 L375.40 284.40 L378.93 274.70 L382.45 284.40 L385.98 274.70 L389.50 284.40 L393.03 274.70 L396.55 284.40 L400.08 274.70 L403.60 284.40 L407.13 274.70 L410.65 284.40 L414.18 274.70 L417.70 284.40 L421.23 274.70" stroke="#4a88fa" stroke-width="0.8" opacity="0.55"/>
<path d="M308.42 274.7 L308.72 267 M315.47 274.7 L315.77 267 M322.52 274.7 L322.82 267 M329.57 274.7 L329.88 267 M336.62 274.7 L336.93 267 M343.68 274.7 L343.98 267 M350.73 274.7 L351.03 267 M357.78 274.7 L358.08 267 M364.83 274.7 L365.13 267 M371.88 274.7 L372.18 267 M378.93 274.7 L379.23 267 M385.98 274.7 L386.28 267 M393.03 274.7 L393.33 267 M400.08 274.7 L400.38 267 M407.13 274.7 L407.43 267 M414.18 274.7 L414.48 267" stroke="#4560ee" stroke-width="1.5" opacity="0.75"/>
<path d="M308.72 267 L307.82 259 L308.82 250.00 M315.77 267 L315.37 259 L314.67 243.00 M322.82 267 L322.92 259 L322.92 247.00 M329.88 267 L328.97 259 L328.77 240.00 M336.93 267 L336.52 259 L337.02 244.00 M343.98 267 L344.07 259 L342.88 248.00 M351.03 267 L350.12 259 L351.12 241.00 M358.08 267 L357.68 259 L356.98 245.00 M365.13 267 L365.23 259 L365.23 249.00 M372.18 267 L371.28 259 L371.08 242.00 M379.23 267 L378.83 259 L379.33 246.00 M386.28 267 L386.38 259 L385.18 250.00 M393.33 267 L392.43 259 L393.43 243.00 M400.38 267 L399.98 259 L399.28 247.00 M407.43 267 L407.53 259 L407.53 240.00 M414.48 267 L413.58 259 L413.38 244.00" stroke="#4450e2" stroke-width="1.3" opacity="0.45"/>
<path d="M304.90 284.4 V292 M311.95 284.4 V292 M319.00 284.4 V292 M326.05 284.4 V292 M333.10 284.4 V292 M340.15 284.4 V292 M347.20 284.4 V292 M354.25 284.4 V292 M361.30 284.4 V292 M368.35 284.4 V292 M375.40 284.4 V292 M382.45 284.4 V292 M389.50 284.4 V292 M396.55 284.4 V292 M403.60 284.4 V292 M410.65 284.4 V292 M417.70 284.4 V292" stroke="#4458ea" stroke-width="1.5" opacity="0.55"/>
<path d="M305.60 300.8 L307.90 293.2 L310.20 300.8 M312.65 300.8 L314.95 293.2 L317.25 300.8 M319.70 300.8 L322.00 293.2 L324.30 300.8 M326.75 300.8 L329.05 293.2 L331.35 300.8 M333.80 300.8 L336.10 293.2 L338.40 300.8 M340.85 300.8 L343.15 293.2 L345.45 300.8 M347.90 300.8 L350.20 293.2 L352.50 300.8 M354.95 300.8 L357.25 293.2 L359.55 300.8 M362.00 300.8 L364.30 293.2 L366.60 300.8 M369.05 300.8 L371.35 293.2 L373.65 300.8 M376.10 300.8 L378.40 293.2 L380.70 300.8 M383.15 300.8 L385.45 293.2 L387.75 300.8 M390.20 300.8 L392.50 293.2 L394.80 300.8 M397.25 300.8 L399.55 293.2 L401.85 300.8 M404.30 300.8 L406.60 293.2 L408.90 300.8 M411.35 300.8 L413.65 293.2 L415.95 300.8" stroke="#4668f2" stroke-width="1.8" opacity="0.85"/>
<path d="M302.70 306.2 L304.40 301.2 L306.10 306.2 M309.75 306.2 L311.45 301.2 L313.15 306.2 M316.80 306.2 L318.50 301.2 L320.20 306.2 M323.85 306.2 L325.55 301.2 L327.25 306.2 M330.90 306.2 L332.60 301.2 L334.30 306.2 M337.95 306.2 L339.65 301.2 L341.35 306.2 M345.00 306.2 L346.70 301.2 L348.40 306.2 M352.05 306.2 L353.75 301.2 L355.45 306.2 M359.10 306.2 L360.80 301.2 L362.50 306.2 M366.15 306.2 L367.85 301.2 L369.55 306.2 M373.20 306.2 L374.90 301.2 L376.60 306.2 M380.25 306.2 L381.95 301.2 L383.65 306.2 M387.30 306.2 L389.00 301.2 L390.70 306.2 M394.35 306.2 L396.05 301.2 L397.75 306.2 M401.40 306.2 L403.10 301.2 L404.80 306.2 M408.45 306.2 L410.15 301.2 L411.85 306.2 M415.50 306.2 L417.20 301.2 L418.90 306.2" stroke="#4664f0" stroke-width="1.5" opacity="0.8"/>
<path d="M292 262 L296 275 L299.5 290 M296.5 258 L300 270 M291 270 L295 282 L298 297" stroke="#4456e8" stroke-width="1.3" opacity="0.6"/>
</g>
<g filter="url(#bl06)">
<circle cx="304.90" cy="284.2" r="1.5" fill="#32a4ee"/>
<circle cx="304.90" cy="284.3" r="0.7" fill="#3cc4b0"/>
<circle cx="311.95" cy="284.2" r="1.5" fill="#32a4ee"/>
<circle cx="311.95" cy="284.3" r="0.7" fill="#3cc4b0"/>
<circle cx="319.00" cy="284.2" r="1.5" fill="#32a4ee"/>
<circle cx="319.00" cy="284.3" r="0.7" fill="#3cc4b0"/>
<circle cx="326.05" cy="284.2" r="1.5" fill="#32a4ee"/>
<circle cx="326.05" cy="284.3" r="0.7" fill="#3cc4b0"/>
<circle cx="333.10" cy="284.2" r="1.5" fill="#32a4ee"/>
<circle cx="333.10" cy="284.3" r="0.7" fill="#3cc4b0"/>
<circle cx="340.15" cy="284.2" r="1.5" fill="#32a4ee"/>
<circle cx="340.15" cy="284.3" r="0.7" fill="#3cc4b0"/>
<circle cx="347.20" cy="284.2" r="1.5" fill="#32a4ee"/>
<circle cx="347.20" cy="284.3" r="0.7" fill="#3cc4b0"/>
<circle cx="354.25" cy="284.2" r="1.5" fill="#32a4ee"/>
<circle cx="354.25" cy="284.3" r="0.7" fill="#3cc4b0"/>
<circle cx="361.30" cy="284.2" r="1.5" fill="#32a4ee"/>
<circle cx="361.30" cy="284.3" r="0.7" fill="#3cc4b0"/>
<circle cx="368.35" cy="284.2" r="1.5" fill="#32a4ee"/>
<circle cx="368.35" cy="284.3" r="0.7" fill="#3cc4b0"/>
<circle cx="375.40" cy="284.2" r="1.5" fill="#32a4ee"/>
<circle cx="375.40" cy="284.3" r="0.7" fill="#3cc4b0"/>
<circle cx="382.45" cy="284.2" r="1.5" fill="#32a4ee"/>
<circle cx="382.45" cy="284.3" r="0.7" fill="#3cc4b0"/>
<circle cx="389.50" cy="284.2" r="1.5" fill="#32a4ee"/>
<circle cx="389.50" cy="284.3" r="0.7" fill="#3cc4b0"/>
<circle cx="396.55" cy="284.2" r="1.5" fill="#32a4ee"/>
<circle cx="396.55" cy="284.3" r="0.7" fill="#3cc4b0"/>
<circle cx="403.60" cy="284.2" r="1.5" fill="#32a4ee"/>
<circle cx="403.60" cy="284.3" r="0.7" fill="#3cc4b0"/>
<circle cx="410.65" cy="284.2" r="1.5" fill="#32a4ee"/>
<circle cx="410.65" cy="284.3" r="0.7" fill="#3cc4b0"/>
<circle cx="417.70" cy="284.2" r="1.5" fill="#32a4ee"/>
<circle cx="417.70" cy="284.3" r="0.7" fill="#3cc4b0"/>
<circle cx="307.90" cy="296.4" r="1.35" fill="#3f98f6"/>
<circle cx="314.95" cy="296.4" r="1.35" fill="#3f98f6"/>
<circle cx="322.00" cy="296.4" r="1.35" fill="#3f98f6"/>
<circle cx="329.05" cy="296.4" r="1.35" fill="#3f98f6"/>
<circle cx="336.10" cy="296.4" r="1.35" fill="#3f98f6"/>
<circle cx="343.15" cy="296.4" r="1.35" fill="#3f98f6"/>
<circle cx="350.20" cy="296.4" r="1.35" fill="#3f98f6"/>
<circle cx="357.25" cy="296.4" r="1.35" fill="#3f98f6"/>
<circle cx="364.30" cy="296.4" r="1.35" fill="#3f98f6"/>
<circle cx="371.35" cy="296.4" r="1.35" fill="#3f98f6"/>
<circle cx="378.40" cy="296.4" r="1.35" fill="#3f98f6"/>
<circle cx="385.45" cy="296.4" r="1.35" fill="#3f98f6"/>
<circle cx="392.50" cy="296.4" r="1.35" fill="#3f98f6"/>
<circle cx="399.55" cy="296.4" r="1.35" fill="#3f98f6"/>
<circle cx="406.60" cy="296.4" r="1.35" fill="#3f98f6"/>
<circle cx="413.65" cy="296.4" r="1.35" fill="#3f98f6"/>
<circle cx="304.40" cy="303" r="1.1" fill="#4088f2"/>
<circle cx="311.45" cy="303" r="1.1" fill="#4088f2"/>
<circle cx="318.50" cy="303" r="1.1" fill="#4088f2"/>
<circle cx="325.55" cy="303" r="1.1" fill="#4088f2"/>
<circle cx="332.60" cy="303" r="1.1" fill="#4088f2"/>
<circle cx="339.65" cy="303" r="1.1" fill="#4088f2"/>
<circle cx="346.70" cy="303" r="1.1" fill="#4088f2"/>
<circle cx="353.75" cy="303" r="1.1" fill="#4088f2"/>
<circle cx="360.80" cy="303" r="1.1" fill="#4088f2"/>
<circle cx="367.85" cy="303" r="1.1" fill="#4088f2"/>
<circle cx="374.90" cy="303" r="1.1" fill="#4088f2"/>
<circle cx="381.95" cy="303" r="1.1" fill="#4088f2"/>
<circle cx="389.00" cy="303" r="1.1" fill="#4088f2"/>
<circle cx="396.05" cy="303" r="1.1" fill="#4088f2"/>
<circle cx="403.10" cy="303" r="1.1" fill="#4088f2"/>
<circle cx="410.15" cy="303" r="1.1" fill="#4088f2"/>
<circle cx="417.20" cy="303" r="1.1" fill="#4088f2"/>
<circle cx="308.42" cy="275.6" r="1.1" fill="#4a84f6"/>
<circle cx="315.47" cy="275.6" r="1.1" fill="#4a84f6"/>
<circle cx="322.52" cy="275.6" r="1.1" fill="#4a84f6"/>
<circle cx="329.57" cy="275.6" r="1.1" fill="#4a84f6"/>
<circle cx="336.62" cy="275.6" r="1.1" fill="#4a84f6"/>
<circle cx="343.68" cy="275.6" r="1.1" fill="#4a84f6"/>
<circle cx="350.73" cy="275.6" r="1.1" fill="#4a84f6"/>
<circle cx="357.78" cy="275.6" r="1.1" fill="#4a84f6"/>
<circle cx="364.83" cy="275.6" r="1.1" fill="#4a84f6"/>
<circle cx="371.88" cy="275.6" r="1.1" fill="#4a84f6"/>
<circle cx="378.93" cy="275.6" r="1.1" fill="#4a84f6"/>
<circle cx="385.98" cy="275.6" r="1.1" fill="#4a84f6"/>
<circle cx="393.03" cy="275.6" r="1.1" fill="#4a84f6"/>
<circle cx="400.08" cy="275.6" r="1.1" fill="#4a84f6"/>
<circle cx="407.13" cy="275.6" r="1.1" fill="#4a84f6"/>
<circle cx="414.18" cy="275.6" r="1.1" fill="#4a84f6"/>
</g>
<path d="M299.5 309.4 H417.40" stroke="#3f5cea" stroke-width="2.8" opacity="0.6" filter="url(#bl06)"/>
<path d="M301.2 309.4 H417.40" stroke="#3cc0b8" stroke-width="1.1" filter="url(#bl03)"/>
<path d="M302 309.4 H417.40" stroke="#b6d545" stroke-width="0.75" stroke-dasharray="1.4 1.2" filter="url(#bl03)"/>
<path d="M301.20 318.90 L330.00 318.80 L345.00 318.60 L350.00 318.20 L356.00 319.10 L362.00 319.30 L368.00 318.90 L400.00 318.80 L417.40 318.60" stroke="#3f58e8" stroke-width="2.6" opacity="0.55" fill="none" filter="url(#bl06)"/>
<path d="M301.20 318.90 L330.00 318.80 L345.00 318.60 L350.00 318.20 L356.00 319.10 L362.00 319.30 L368.00 318.90 L400.00 318.80 L417.40 318.60" stroke="#30b4de" stroke-width="1.05" fill="none" filter="url(#bl03)"/>
<path d="M297.5 296 L300 304 L299 312 L301 320" stroke="#4458ea" stroke-width="1.4" opacity="0.6" fill="none" filter="url(#bl06)"/>
<path d="M300 328.8 H417.40 M300 338.4 H417.40" stroke="#4444d0" stroke-width="1.0" opacity="0.3" filter="url(#bl05)"/>
<path d="M135.1 338.4 H300" stroke="#4240c8" stroke-width="0.9" opacity="0.25" filter="url(#bl05)"/>
</g>
<rect x="426.7" y="216.00" width="4.3" height="137.30" fill="url(#parula)"/>
<g font-size="10.4" fill="#161616" stroke="#161616" stroke-width="0.15">
<text x="131.6" y="232.70" text-anchor="end">500</text>
<text x="131.6" y="257.60" text-anchor="end">400</text>
<text x="131.6" y="282.10" text-anchor="end">300</text>
<text x="131.6" y="307.40" text-anchor="end">200</text>
<text x="131.6" y="331.50" text-anchor="end">100</text>
<text x="135.10" y="365.2" text-anchor="middle">0</text>
<text x="191.56" y="365.2" text-anchor="middle">0.2</text>
<text x="248.02" y="365.2" text-anchor="middle">0.4</text>
<text x="304.48" y="365.2" text-anchor="middle">0.6</text>
<text x="360.94" y="365.2" text-anchor="middle">0.8</text>
<text x="417.40" y="365.2" text-anchor="middle">1</text>
<text x="433.8" y="232.00" font-size="9.8">0.012</text>
<text x="433.8" y="252.90" font-size="9.8">0.01</text>
<text x="433.8" y="273.60" font-size="9.8">0.008</text>
<text x="433.8" y="294.30" font-size="9.8">0.006</text>
<text x="433.8" y="315.10" font-size="9.8">0.004</text>
<text x="433.8" y="335.80" font-size="9.8">0.002</text>
<text x="433.8" y="357.20" font-size="9.8">0</text>
</g>
<text x="277" y="379.0" text-anchor="middle" font-size="12.3" textLength="41.3" lengthAdjust="spacingAndGlyphs" fill="#161616" stroke="#161616" stroke-width="0.15">Time [s]</text>
<text transform="translate(108.7 286.0) rotate(-90)" text-anchor="middle" font-size="11.7" textLength="86.2" lengthAdjust="spacingAndGlyphs" fill="#161616" stroke="#161616" stroke-width="0.15">Frequency [Hz]</text>
<text x="279.6" y="398.8" text-anchor="middle" font-size="11.8" font-weight="bold" fill="#111">(c)</text>
</g>
</svg>
</body>
</html>
